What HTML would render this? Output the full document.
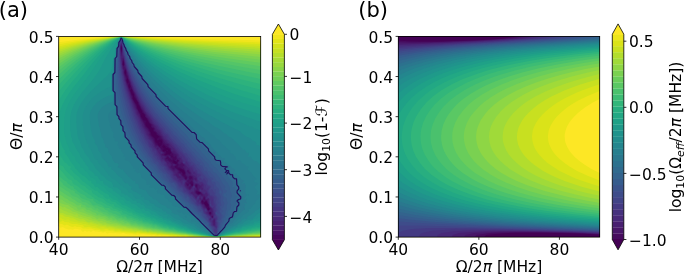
<!DOCTYPE html>
<html><head><meta charset="utf-8"><title>Figure</title>
<style>html,body{margin:0;padding:0;background:#fff;overflow:hidden}svg{display:block}</style></head>
<body>
<svg width="685" height="274" viewBox="0 0 685 274" font-family="'DejaVu Sans','Liberation Sans',sans-serif" font-size="15.5" fill="#000">
<g><rect x="58.7" y="36.4" width="202" height="200.7" fill="#fde725"/>
<path fill="#f1e51d" fill-rule="evenodd" d="M59.5,227.1l1.2,0.7 2,-0.8 2.1,1.2 2,0.8 2,0.5 2,-0.3 2,0.5 2.1,-0.9 2.9,0.3 1.1,0.5 2,0 0.7,1.5 1.3,0.8 2.1,-1.4 0.7,0.6 1.3,0.6 2,-0.6 2,0.8 2,-1.4 1.5,0.6 0.6,0.5 2,-0.2 2,0.5 2,0.2 2,0.6 2.1,-0.6 2,1.7 2,-1 2,-0.1 2,0.6 2.1,-0.4 4,0.6 2,0 0.8,-0.4 1.2,-0.2 0.8,0.2 1.3,0.7 4,0.6 2,-0.2 4.1,0.9 2,-0.4 6,-0.1 2.1,0.5 2,-0.2 3.2,0.2 0.8,0.3 1.3,-0.3 1.3,0 1.5,0.6 2,0.3 2,-0.5 2,0.5 6.1,0 2,0.6 2,-0.3 2,0.5 2.1,-0.2 2,0.3 2,-0.3 4,0.2 2.1,-0.2 2,0.3 6,0.1 4.1,-0.2 2,0.2 16.2,0.1 14.1,-0.2 6.1,0.2 24.2,-0.4 0,-196.3 -84.4,-2 -28.7,-1.3 -26.3,-0.6 -12.1,0.2 -8.1,0.6 -8,1.1 -14.2,1.2 -14.1,1.8 -6.1,0.9 0,183.8z"/>
<path fill="#e2e418" fill-rule="evenodd" d="M58.7,223.2l4,1 2.1,1.2 2,-0.8 4,1.9 2,0.4 2.1,-0.9 2,1.1 2,-0.4 2,0.6 2,1.1 2.1,0.1 2,0.3 4,-0.2 4.1,1.5 2,-0.3 2,0.3 2,0.9 2,0.5 2.1,-0.7 2,-0.3 2,0.6 2,0 2,0.2 2.1,0.7 4,-0.2 2,0.5 2,-0.1 6.1,0.9 2,0 2,0.5 2.1,0.1 2,-0.7 2,0.5 2,0.3 2,0 6.1,0.4 2,0.3 4.1,0.1 2,0.3 2,-0.1 2,0.4 2,-0.1 4.1,0.2 2,0.5 2,-0.1 2,0.4 2.1,-0.1 2,0.3 2,-0.2 4,0.3 2.1,-0.1 2,0.3 6,0.1 4.1,0 2,0.1 16.2,0.2 14.1,-0.2 6.1,0.1 24.2,-0.5 0,-194 -59.9,-2 -45.1,-2 -16.2,-1.1 -18.2,-0.8 -10.1,0.4 -6,0.6 -5.6,0.9 -10.6,1.1 -12.1,1.8 -12.1,2 -6.1,1.2z"/>
<path fill="#d2e21b" fill-rule="evenodd" d="M260.7,236l0,-191.8 -40.4,-1.7 -36.4,-1.7 -32.3,-2 -16.1,-1.3 -14.2,-0.9 -6,0.3 -6.1,0.5 -6.1,1 -12.1,1.6 -18.2,3.2 -14.1,3.2 0,174.8 2,0.5 2,-1.1 2.1,1.4 4,0.2 0.9,0.9 1.1,0.5 2,0.3 4.1,0.2 2,0.7 4,0.4 1.6,1.9 0.5,0.1 4,-0.4 4,1 6.1,1 2,0.6 2,0.1 2.1,-0.6 2,0.1 2,0.9 2,-0.2 2,0.2 2.1,1.1 4,-0.5 2,0.8 2,0.3 6.1,0.4 4,0.6 2.1,0.1 2,-0.4 4,0.6 4.1,0.1 2,0.4 2,0 2,0.3 4.1,0.2 2,0.6 2,-0.2 2,0.3 6.1,0.2 6,0.6 2.1,-0.1 2,0.5 2,-0.1 4,0.4 2.1,-0.2 2,0.4 6,0.2 22.3,0.5 14.1,-0.4 6.1,0.1z"/>
<path fill="#c5e021" fill-rule="evenodd" d="M260.7,235.7l0,-189.7 -46.5,-2.4 -34.3,-2.1 -30.3,-2.3 -16.2,-1.6 -12.1,-1 -10.1,0.8 -24.2,4.1 -13.9,2.9 -14.4,3.9 0,168.5 6.1,3.3 2,-0.5 2,0 2,1.7 2,0.2 2.1,0.5 2,0.3 2,0.6 2,0.2 2,0.8 2.1,-0.1 2,0.6 1.6,0.7 4.4,0.9 2.1,-0.1 2,1.4 2,0.1 2,-0.1 2,-0.4 2.1,0.8 4,0.9 2,-0.1 2,0.2 2.1,1.1 2,-0.2 2,0.1 4,1.3 2.1,-0.3 2,0.2 2,0.1 2,0.5 2,0.1 2.1,0.4 2,-0.4 6,0.8 2.1,0 2,0.4 2,-0.1 4,0.7 2.1,-0.1 2,0.7 2,-0.1 10.1,0.8 6.1,0.2 2,0.4 2,0 4,0.5 2.1,-0.2 2,0.4 6,0.3 22.3,0.6 14.1,-0.4 6.1,0z"/>
<path fill="#b5de2b" fill-rule="evenodd" d="M260.7,235.4l0,-187.5 -40.4,-2.4 -34.3,-2.5 -38.4,-3.4 -26.3,-2.9 -6,0.5 -4.1,0.5 -15.2,2.7 -9.8,2 -8.5,2 -7.4,2 -11.6,3.7 0,163.8 3.9,1.1 2.2,1.5 2,0.5 2,-0.1 2,1.3 2,0.1 1.9,0.7 4.2,2.3 2,0.2 2,-0.1 4.1,1.2 2,1.1 2,-0.7 2,1.1 4.1,0.7 2,0.9 2,0 4.1,0.5 2,1 2,-0.2 4,0.5 2.1,1 6,0.5 2,0.9 2.1,-0.2 4,0.2 4,0.8 2.1,0.7 2,-0.4 2,0 2,0.3 2,0.6 2.1,-0.1 2,0.6 2,-0.2 4,0.6 2.1,0 2,0.7 2,-0.1 10.1,0.9 2,-0.1 12.1,1.2 2.1,-0.1 4,0.6 10.1,0.5 16.2,0.4z"/>
<path fill="#a5db36" fill-rule="evenodd" d="M260.7,235l0,-185.1 -40.4,-2.9 -40.4,-3.4 -24.2,-2.5 -34.4,-4.3 -6,0.5 -4.1,0.6 -12.6,2.5 -9,2 -14.9,4 -6.3,2 -9.7,3.6 0,159.6 2,1.4 2,-0.1 4.4,2.1 1.7,0.3 2,0.1 4.1,1.9 4,1.1 2,0.8 2,-0.1 2.1,0.9 0.9,1 1.1,0.7 2,0.5 2,-0.6 6.1,2.1 2,-0.2 4,1.6 2.1,-0.4 2,1 2,0 2,0.5 2,0.2 2.1,0.7 2,0.4 4,0.4 2,0.6 2.1,0.1 6,0.5 2,0.7 8.1,0.8 2,0.7 2.1,0 2,0.6 2,-0.3 4,0.7 2.1,-0.1 2,0.8 4,0 2,0.4 6.1,0.5 2,-0.1 12.1,1.3 2.1,-0.2 4,0.7 10.1,0.6 16.2,0.6z"/>
<path fill="#98d83e" fill-rule="evenodd" d="M260.7,234.7l0,-182.7 -36.4,-2.9 -38.3,-3.7 -32.4,-3.9 -32.3,-4.7 -6,0.7 -4.1,0.7 -10.4,2.2 -15.6,4 -12.6,4 -5.3,2 -8.6,3.7 0,153.5 2,1.1 2,1.6 4.1,1.3 2,1.2 2,0.3 4.1,1.7 2,-0.5 0.7,0.7 1.3,2 2,-0.5 2,1.1 5.3,1.4 0.8,0.7 2,0.2 2,0.8 2.1,0.6 2,0.1 4,1.7 2,0.3 2.1,-0.1 2,1 2,0.2 2,0.7 2,0.2 2.1,0.5 2,0 4,0.9 4.1,0.2 2,0.9 4,0.4 2,0.7 2.1,-0.2 4,1 2,0 2,0.8 2.1,-0.1 2,0.9 2,-0.3 4,0.6 2.1,0 2,0.6 2,0 10.1,1.2 2,-0.2 2,0.4 10.1,1.1 2.1,-0.1 4,0.7 2,0 2,0.3 6.1,0.4 16.2,0.6z"/>
<path fill="#89d548" fill-rule="evenodd" d="M260.7,234.3l0,-179.9 -46.5,-4.5 -34.3,-3.9 -30.3,-4.3 -14.1,-2.4 -4.4,-0.9 -9.8,-1.5 -6,0.7 -4.1,0.8 -8.5,2 -14.5,4 -6.1,2 -10.8,4 -4.6,2.1 -8,3.8 0,148.7 3.5,2 0.5,0.4 2.1,-0.3 2,1.5 1.9,0.4 2.1,1.2 2,1.6 2.1,0.1 2,0.8 2,1.4 4,1.4 2.1,0.4 2,0.9 2.4,0.2 1.6,0.8 2,1.5 2.1,0 4,1.9 2,-0.7 2,1 2.1,0.3 2,1.1 4,1 2,0.1 2.1,0.6 2,-0.2 2,0.8 2,0.5 4.1,0.5 2,0.9 4,0.4 2,0.5 2.1,0 2,0.5 2,0.7 2,-0.1 2,0.6 2.1,0.1 2,0.9 2,-0.4 4,0.9 2.1,0 2,0.4 2,0.1 10,1.4 2.1,-0.2 2,0.5 10.1,1 2.1,0 4,0.7 2,0 2,0.4 6.1,0.4 16.2,0.8 32.3,-1.6 2,-0.4z"/>
<path fill="#7ad151" fill-rule="evenodd" d="M260.7,233.9l0,-177 -46.5,-5 -32.3,-4.3 -26.2,-4.1 -20.2,-3.8 -5.7,-1.3 -8.5,-1.4 -6,0.8 -3.2,0.6 -2.9,0.9 -4.9,1.1 -13.3,4 -5.8,2 -10.1,4 -8.6,4.1 -7.8,4.1 0,142.7 2,1.9 4.1,1.4 3,0.4 1,0.4 1.5,1.6 2.5,1.2 0.7,0.8 1.4,0.9 4,1.5 6.1,1.8 4,2 2,0.3 2,1 2.1,0.7 2,1.9 2,-0.8 2,0.4 2,0.2 2.1,1.2 2,0.8 2,0.3 2,1.1 4.1,0.5 4,1 4,1.4 6.1,0.7 2,0.7 6.1,0.9 2,0.7 2,-0.1 2,0.7 2.1,0.2 2,0.6 2,-0.1 4,1 2.1,0 4,0.6 6.1,1 4,0.5 2,-0.1 4.1,0.8 8,0.8 2.1,0 4,0.7 2,0.1 2,0.4 22.3,1.3 24.2,-1.3 12.1,-1.1 4.1,0z"/>
<path fill="#6ece58" fill-rule="evenodd" d="M260.7,233.5l0,-173.8 -38.4,-4.6 -22.2,-3.1 -16.2,-2.5 -14.1,-2.4 -18.2,-3.5 -18.2,-3.9 -4.7,-1.3 -7.4,-1.4 -8.1,1.3 -7.3,2.1 -6.5,2 -11.3,4 -4.9,2 -8.8,4.1 -7.7,4 -8,4.7 0,136.3 1.1,1.5 0.9,0.6 2,0.3 1.1,1.1 3,2.1 2,0.4 2,0.7 2,1.5 2.1,0.7 2,1.1 0.7,1.5 1.3,0.7 4,-0.6 2.2,1.9 1.9,1.3 2,0.5 4,1.6 4.1,1.8 2,0 2,0.8 2,0.2 2.1,0.9 1.1,0.9 0.9,0.4 2,0.6 2,0 1.6,1 2.5,0.2 6,2 4.1,1.1 2,-0.2 2,0.4 2,1.2 4.1,0.5 4,0.8 2,0.1 2,0.8 4.1,0.8 2,0 4,1 2.1,0.1 10.1,1.9 4,0.4 2,0 4.1,0.7 8,1 2.1,0 2,0.5 4,0.3 2,0.5 10.1,0.8 12.2,0.7 8,-0.6 16.2,-0.9 12.1,-1.3 4.1,0z"/>
<path fill="#60ca60" fill-rule="evenodd" d="M260.7,233.1l0,-170.3 -40.4,-5.5 -22.2,-3.6 -14.2,-2.5 -18.1,-3.5 -10.1,-2.2 -16.2,-3.8 -8.1,-2.1 -3.7,-1.2 -6.4,-1.3 -7.6,1.3 -2.5,0.9 -3.9,1.1 -6,2 -10.4,4 -9,4 -7.8,4.1 -6.9,4 -8.5,5.5 0,130.1 4,2.1 2.1,1.8 2.4,1 2.4,2 3.2,1.2 2.1,1.3 2,1.7 2,0.4 2,-0.9 0.3,0.3 -0.3,2.1 2,0.1 2.1,0.5 2,2.2 2,-0.1 4,2.4 2.9,0.8 1.2,1.9 2,-0.6 2,1.2 4.1,0.7 2,0.8 2,1.7 2,-1 2,2 2.1,-0.2 2,1.1 2,0.8 2,-0.3 2,0.7 2.1,1.1 2,-0.3 2,0.9 2,1.2 4.1,0.5 4,1 2,0 2.4,0.9 3.7,0.8 2,0.1 4,0.9 2.1,0.1 4,0.8 2,0.3 4.1,1.1 6,0.4 8.1,1.4 6.1,0.5 2,0.5 4,0.3 2,0.5 6.1,0.7 16.2,1 20.2,-1.4 16.1,-1.7 4.1,0z"/>
<path fill="#54c568" fill-rule="evenodd" d="M260.7,232.5l0,-166.2 -20.2,-3.1 -22.2,-3.6 -20.2,-3.6 -14.2,-2.9 -16.1,-3.5 -16.2,-3.9 -16.1,-4.5 -6.1,-1.8 -2.5,-1 -5.6,-1.3 -7,1.3 -3.1,1.3 -2.7,0.7 -10.5,4 -9,4 -7.8,4.1 -6.9,4 -9.1,6 -6.5,4.7 0,122.7 4,2.6 2.1,1.5 1.8,1 0.2,0.3 3.1,1.7 0.9,0.2 2,1.9 2.1,0.8 2,1.8 2,1 2,0.4 2,1.9 2.1,0.2 2,2.1 2,0.4 2,-0.2 1.5,1.5 2.6,1.6 2,-0.1 2,1.8 2,0.1 1,0.6 1,1.1 2.1,0.3 0.6,0.6 3.4,1.6 2,-0.4 2,0.4 4.1,2.9 4,0.1 4.1,1.1 4,1.5 2,1.3 2,0.2 2.1,-0.2 2,1.1 2,0.7 2,0 2,0.4 2.1,0.9 2,0.5 2,0.2 4,0.9 2.1,0 4,1 2,0.1 4.1,1.2 10.1,1.2 4,0.8 4,0.6 2.1,0.1 2,0.5 4,0.4 2,0.4 6.1,0.8 16.2,1.2 16.9,-1.4 15.4,-1.6 2,-0.1 2,-0.4 4.1,0z"/>
<path fill="#4ac16d" fill-rule="evenodd" d="M260.7,231.9l0,-161.8 -18.2,-3.1 -20.2,-3.7 -20.2,-4 -18.2,-4 -16.1,-4 -14.2,-3.9 -18.1,-5.6 -6.1,-2 -3.2,-1.4 -4.9,-1.2 -6.3,1.2 -1.8,0.9 -3.5,1.1 -9.6,4 -4.4,2 -7.8,4 -6.8,4.1 -9.1,6 -5.5,4 -7.8,6.3 0,114.9 2,1.1 6.1,4.1 2,0.9 2.5,3.2 1.5,1 4.1,1.2 4,2.7 0.7,1.1 1.3,1.1 2.1,0.2 2,0.4 2,1.9 2,0.7 3.1,1.7 1,1.6 2,-0.7 4,3.2 2,0.8 2.1,0.3 2,0.6 2,1.6 2,0.2 4.1,1.6 4,1.8 2,-0.1 2,0.9 4.1,1.5 2,0.4 2,1.1 2,0.6 2.1,-0.2 2,1.3 2,0.5 2,0.1 2,0.5 2.1,1 4,0.5 4,1.3 2.1,-0.1 4,1.1 2,0.2 4.1,1.1 8,1.4 2.1,0.1 2,0.5 8.1,1.2 2,0.5 4,0.4 8.1,1.3 16.2,1.3 2,-0.3 13.2,-1 2.9,-0.6 12.2,-1.1 2,-0.4 2,0.1 2,-0.6 6.1,-0.6z"/>
<path fill="#3fbc73" fill-rule="evenodd" d="M260.7,231.3l0,-157 -24.2,-4.7 -18.2,-3.8 -18.2,-4.1 -18.2,-4.6 -18.2,-5.1 -14.1,-4.5 -16.2,-5.8 -3,-1.3 -3,-1 -1.9,-1 -4.2,-1.1 -5.7,1.1 -2.4,1.2 -2.5,0.8 -8.7,4 -11.3,6 -6.4,4.1 -8.5,6 -7.6,6 -9.5,8.3 0,104.3 2,2.5 2,2 0.7,1.3 3.4,2 2,1.6 1.8,0.4 0.2,1 2,0.4 1.8,0.6 0.6,2 3.8,2.1 1.1,2 0.8,0.4 2,1.7 6.1,1.6 4,4.5 4.1,0.1 2,1.1 2,0.5 2,0.9 1.7,1.2 0.4,0.7 2,0.5 2,2 2,0.2 2,1.4 2.1,0.2 4,2.3 2,0 2,1.1 2.1,-0.4 2,1.9 2,0.5 2,0.1 2,1.3 2.1,0.3 4,1.4 2,0.1 0.6,0.5 1.4,0.5 4.1,0.6 3.3,0.9 2.7,1.3 2.1,-0.3 2.3,1 5.7,1.4 6.1,1.3 6.1,0.8 2,0.7 8.1,1.1 2,0.7 2,0.1 4,0.7 2.1,0.2 4.9,1 15.3,1.3 2,-0.4 11.6,-0.9 6.6,-1.2 9.9,-0.8 2.2,-0.7 2,0 8.1,-1.3z"/>
<path fill="#35b779" fill-rule="evenodd" d="M260.7,230.4l0,-151.5 -24.2,-5.2 -18.2,-4.3 -16.2,-4.1 -20.2,-5.6 -14.1,-4.4 -16.2,-5.7 -16.1,-6.4 -8.1,-3.5 -2.4,-1.3 -3.7,-1.1 -5.2,1.1 -0.8,0.6 -3.6,1.4 -4.1,2 -7.5,4 -9.7,6.1 -8.3,6 -7.4,6 -8.8,8 -7.2,7 0,96.6 1,0.8 1,0.3 2,2 2.1,1.5 0.8,0.2 1.2,0.8 0.5,1.2 2.9,2 0.6,1.2 2,0.1 0.9,0.7 0.3,2 0.9,0.2 2,1.2 0.4,0.6 3.6,2.9 2,0.6 2.1,1 2,2 2,1 2,0.5 2,-0.1 0.3,0.2 0.3,2 1.5,0.7 1.1,1.3 4.9,1.7 2,1.2 2.1,1.8 4,0.2 2,2 2,0.9 2.4,0.2 1.7,0.5 2.8,1.5 1.2,1.7 2,0.6 2.1,0.2 2,2.1 2,-0.2 2,0.3 4.1,1.8 2,0.5 2,1.1 2,-0.4 2,1.8 2.1,-0.1 2,0.3 2,1.1 2,0.2 2,1.1 2.1,-0.3 2,1 3.5,1.3 2.5,0.6 4.1,0.6 2,0.9 4,0.2 4.1,1.3 8.1,1.3 2,0.7 2,0.1 4,0.8 2.1,0.2 6.3,1.3 13.9,1.2 2,-0.3 9.9,-0.9 8.3,-1.7 2,0.1 3.2,-0.4 6.9,-1.3 4,-0.3 6.1,-1.1z"/>
<path fill="#2db27d" fill-rule="evenodd" d="M260.7,229.4l0,-145.4 -20.2,-4.8 -22.2,-5.8 -20.2,-5.8 -18.2,-5.8 -12.1,-4.2 -16.2,-6.3 -14.1,-6.3 -12.1,-6 -0.8,-0.6 -3.3,-1 -4.7,1 -1.3,1 -2.6,1 -1.5,1 -2.2,1 -10,6 -8.4,6.1 -7.4,6 -6.6,6 -10,10 -7.9,8.6 0,83.2 2.7,2.6 7.4,8.7 2,0.2 1.4,1.1 0.3,2 2.5,2 1.9,0.9 1.9,1.1 2.2,2 1.9,1.1 2.1,1.7 2,1.1 2,1.7 1.7,0.5 1.9,2 0.4,0 2.1,2.1 2,0.6 2,1.9 2,-0.3 2,1.5 2.1,0.9 2,1.6 4,1.1 0.8,0.6 1.2,1.6 2.1,0.1 2,0.9 2,1.4 2,-0.2 0.3,0.2 1.1,2 0.6,0.5 2.1,0.3 2,0.6 0.4,0.6 1.6,0.8 2,0.2 2,1.1 2.1,0.8 2,0.4 2,1.2 2,-0.2 2,1.9 4.1,0.5 2,0.9 2,0.1 2,1.2 2.1,0.1 2,0.7 2,0.9 2,0.2 2,1.1 2.1,0.3 2,-0.1 2,1.3 4,0.2 2.1,0.9 4,0.9 6.1,1.1 2,0.6 2,0.2 4,1 2.1,0.2 4,0.7 3.5,0.9 12.7,1.1 2,-0.3 8.7,-0.8 1.4,-0.4 8.1,-1.7 2.1,0.1 8,-1.9 6,-0.5 4.1,-0.8z"/>
<path fill="#27ad81" fill-rule="evenodd" d="M260.7,228.2l0,-138.5 -22.2,-6 -20.2,-5.9 -20.2,-6.5 -16.2,-5.7 -16.1,-6.3 -14.2,-6.2 -8.1,-3.9 -8,-4.2 -10.1,-5.6 -1.2,-1 -2.9,-1 -4.2,1 -1.8,1.3 -1.7,0.7 -3.3,2 -9,6 -5.2,4.1 -4.8,4 -8.5,8 -9.5,10 -8.9,10.1 -3.2,4 -2.5,3.4 0,70.9 1.5,1.9 0.5,0.5 2,0.8 0.9,0.8 1.1,2 2.1,2.7 4,3.6 2.3,1.7 1.2,2 0.6,0.6 2,0.8 2,2 1,0.6 1,1.4 1,0.6 3.1,1.3 2,2.2 1.2,0.5 0.8,1.4 2,-0.2 0.8,0.8 0.6,2 0.6,0.6 4.1,2.4 1,1.1 1,0.6 4,1.2 4.1,3.6 2,0.5 2,1.5 2,-0.6 1.9,3.2 2.2,0.2 4,1.8 2,1.3 2.1,0.4 4,2.4 2,0 2,1.8 2.1,0.3 4,2.4 4,0.8 2.1,1.5 2,0.5 2,0 0.9,0.6 4.3,2.1 2.9,0.4 2,0.8 2,0.3 2,1.2 2.1,0.1 2,0.4 2,1.3 4,0.2 2.1,1.1 8,1.7 4.1,1 2,0.2 4,1.2 2.1,0.2 4,0.7 4.6,1.2 11.6,1.1 2,-0.4 7.3,-0.7 2.8,-0.8 8.1,-1.8 2,0.1 8.1,-2.1 2,-0.2 2,0 2,-0.9 2,0.2 2.1,-0.6 2,-0.1z"/>
<path fill="#22a884" fill-rule="evenodd" d="M260.7,227.1l0,-131.2 -20.2,-6 -24.2,-7.9 -18.2,-6.6 -20.2,-8 -14.2,-6.3 -14.1,-7 -8.1,-4.5 -6,-3.5 -8.1,-5.1 -0.7,-0.6 -1.3,-0.7 -1.7,-1.3 -2.4,-0.9 -3.7,0.9 -0.3,0.4 -5.7,3.6 -8,6 -6.9,6.1 -6,6 -5.5,6 -13.7,16.1 -6.3,8 -3.9,6 -2.6,4.6 0,51.7 1.4,1.9 0.8,2 1.7,2 1.1,2 1.1,1.5 2,1.1 2,2.5 2,0.7 0.3,0.3 -0.3,0.9 -0.8,1.1 2.6,2 1.3,2 5,3.8 2,2.6 2,2.1 2.1,1 6,5.2 4.1,3.1 2,-0.2 2,2.3 2,1.7 1.7,0.5 0.3,0.2 0.8,1.8 3.3,2.2 2,-0.6 0.6,0.4 1.4,2.3 4.1,0.8 2,1.9 1.7,1 4.3,3.1 2.1,0.3 4,2.9 2,-0.1 2.1,1.8 2,0.5 6,2.9 2,0.4 2.1,1.2 4,0.8 2,1.4 2,0.5 0.3,0.3 1.8,0.8 2,0.4 6,2.1 2.1,0.3 4,1.7 4,0.7 6.1,2.1 4,0.6 4.1,1.4 2,0.1 4,1.2 2.1,0.4 2,0.6 2,0.2 5.7,1.5 10.5,1 2,-0.4 5.8,-0.6 12.4,-3.1 2,0 6,-1.8 4.1,-0.8 2,0.2 2,-1.2 2,0.1 2.1,-0.7 2,0.1z"/>
<path fill="#1fa287" fill-rule="evenodd" d="M260.7,225.5l0,-123.5 -18.2,-5.4 -8.1,-2.7 -12.1,-4.4 -14.1,-5.4 -10.1,-4.1 -18.2,-8 -14.1,-6.9 -14.2,-7.7 -12.1,-7.4 -10.1,-6.9 -6.1,-4.7 -2,-0.8 -3.2,0.8 -0.8,1 -1.9,1 -7.2,6 -4.3,4 -7.6,8.1 -5,6 -7.6,10 -10.9,13.5 -4.6,6.6 -3.6,6 -2.9,6 -1.5,4.1 -1,4 -0.5,3.3 0,15.7 0.3,1 -0.3,1.5 0,1.1 1.6,3.5 1.9,6 2.6,3.6 0,2.4 4.5,6 0.8,2 2.7,3.8 0.5,0.2 2.4,4.1 1.2,0.7 1,1.3 3,3 2,1.7 2.1,0.9 2.5,2.4 1.5,2.4 2,-0.6 0.4,0.2 0.1,2 1.5,0.9 1.1,1.1 1,2.3 2,-0.4 4.9,4.1 1.1,0.5 1.8,1.5 0.3,0.4 2,0.4 1.6,1.3 0.6,2 1.8,0.5 2,1.9 2.1,0.4 2,0.7 2,1.8 1.4,0.7 0.6,0.9 1.5,1.1 2.6,0.6 3,1.4 3,1.9 2,0.6 2.1,2.2 2,0.9 1.1,0.4 2.9,0.5 2,0.8 1.1,0.7 1,1.1 2,0.6 2,0.3 2,1.5 2,-0.2 1.9,0.7 2.4,2 1.8,0.6 2,0.3 2,0.5 0.8,0.7 3.3,1.5 2,0.1 2,0.9 2,0.2 2.9,1.3 5.2,1.7 2,0 4.1,1.6 2,0.2 2,0.8 4.1,0.9 2,0.8 2,0.1 4,1 2.6,0.9 9.6,1 2,-0.4 4.9,-0.6 3.2,-1.1 4.1,-0.9 3.9,-1.2 2.1,-0.4 2,0 4,-1.8 4.1,-0.5 2,-0.8 2,-0.2 2,-0.8 2,-0.2 2.1,-0.8 2,0.5z"/>
<path fill="#1f9e89" fill-rule="evenodd" d="M260.7,224l0,-115.9 -18.2,-5.4 -16.1,-5.7 -8.1,-3.2 -10.1,-4.3 -20.2,-9.4 -10.1,-5.1 -10.1,-5.5 -8.1,-4.6 -8.1,-5 -10.1,-6.8 -8.1,-6 -10.1,-8.3 -0.1,-0.4 -1.9,-0.8 -2.7,0.8 -1.3,1.5 -0.9,0.5 -1.1,1.3 -1,0.7 -5.8,6 -3.4,4.1 -4.7,6 -2.9,4 -7.9,12 -12.6,16.1 -4.2,5.9 -2.5,4.1 -2.1,4 -2.4,6.1 -1,4 -0.3,2 -0.5,8 0.1,2 -0.1,4 0.5,4 1.2,4.1 0.3,2 2.4,6 1.2,2 0.1,2 1.9,2 1.2,2.7 2.1,1 0.1,0.3 0.1,2 1.8,3.3 2,1.3 1.1,1.4 0.9,2.5 2,0.3 2.1,3.1 2,1.2 3.3,5 0.7,0.6 2,0.6 2.1,1.3 1.2,1.5 0.1,2 0.7,0.6 2,0 1.7,1.4 0.3,0.7 2,0.6 2.1,1.5 2,3 0.7,0.2 2.7,2 0.6,0.2 2,2.1 2.1,0.8 1.5,1 2.5,2.7 2,-0.4 2,1 0.9,0.7 1.2,2 2,1.2 2,0.3 2.4,2.5 3.7,1.3 2,1.4 2,0.2 2,1 2,2 2.3,0.1 1.8,1.9 2,0.4 2,1.2 2,0.4 4.1,1.9 4,0.9 5.9,3.4 4.2,1.1 2,0.3 4.1,1.8 2,0.5 2,1 2,0.2 2.1,0.6 2,1 2,0.3 2,0.9 2,0.4 4.1,1.2 8.1,2.1 1.2,0.6 8.9,0.9 2,-0.4 4,-0.5 2,-0.9 2.1,-0.7 2.4,-0.4 7.7,-2.4 2,0 3.4,-1.6 0.6,-0.5 6.1,-1.1 2,-1 2,-0.1 2,-0.6 2.1,-1 2,-0.1z"/>
<path fill="#1f988b" fill-rule="evenodd" d="M260.7,222.3l0,-107.7 -10.1,-3 -10.1,-3.3 -8.1,-2.9 -10.1,-3.9 -14.1,-6.2 -18.2,-9.2 -12.1,-6.7 -10.1,-6.1 -10.1,-6.5 -8.1,-5.6 -8.1,-6.1 -6,-4.9 -10.1,-9.1 -0.5,-0.7 -1.6,-1.2 -0.3,-0.8 -1.7,-0.7 -2.1,0.7 -6.3,8 -4,6.1 -3.6,6 -6.1,12 -2.5,4 -4.5,6.1 -10.2,12 -5.1,7.2 -1.7,2.8 -2.1,4 -1.6,4.1 -0.5,2 -0.7,4 -0.2,4 0.1,6 0.1,4 0.5,2 0.1,2 0.3,2.1 1,2 -0.1,2 0.7,1.6 1.7,2.4 0.7,2 1.7,3.2 0.2,0.8 2,2 0.8,2 0.4,2 2,2 1,2 1.7,2 1,2 2.3,2.1 0.5,2 2.2,2.1 2.6,1.9 1.5,2.8 2,0.4 1,0.8 1,2 1.6,2 0.4,0.2 2,-0.3 0,2.1 1.9,2 2.2,0.7 0.9,1.3 1.1,0.8 2,0.4 1.5,0.8 0.3,2 2.3,0.6 2,2 2,1 2,2.4 2,-0.2 0.5,0.3 1.6,2 2,2.1 2,-0.5 0.4,0.4 1.6,2.4 4.1,1.1 0.8,0.5 1.2,0.9 0.9,1.1 3.1,2.2 2,-1.2 2.1,3 2,0 2,0.7 2,3 2,-0.4 1.3,0.7 0.8,0.8 2,0.4 0.8,0.8 1.2,0.8 2,0 2,1.9 2.1,0.1 2,1.6 2,-0.6 2,1.7 4.1,1.5 4,1.7 2,1.1 4.1,0.7 2,1.3 2,0.5 2,0.7 2,0.5 2.1,0.8 2,0.4 3.9,1.4 4.2,1 2,1 8.1,0.9 5.2,-0.9 2.8,-1.4 2.1,-0.7 2,-0.4 4.8,-1.5 3.3,-1.6 2,-0.1 2,-0.5 2,-1.6 4.1,-1 2,-0.1 2,-0.7 2,-0.2 0.6,-0.2 1.4,-1.3z"/>
<path fill="#20928c" fill-rule="evenodd" d="M260.7,219.9l0,-98.1 -4,-1.2 -16.2,-5.7 -8.1,-3 -10.1,-4.1 -8.1,-3.6 -8,-3.9 -8.1,-4.2 -8.1,-4.6 -10.1,-6.1 -8.1,-5.2 -8.1,-5.5 -8,-5.9 -10.1,-7.9 -8.1,-7.1 -10.1,-9.9 -2,-2.2 -1,-1.3 -1.1,-0.9 -0.4,-1.1 -1.6,-0.7 -1.9,0.7 -0.1,1.9 -2,2.1 0,3.4 -0.2,0.6 -1.8,2 0,3.8 -1.1,4.3 -1,2 0,1.8 -1.4,8.2 -0.7,2 -1.1,2 -3.5,4 -15.5,14.6 -6,6.8 -3.5,4.7 -2.3,4 -1.7,4.1 -1,4 -0.2,8 0.3,2 0,4 0.7,2 -0.1,2 0.2,2 1.1,4.1 1.4,2 0.2,2 0.9,2 0.4,2 1.6,2 1.7,4 1.3,2 3.6,4 0.4,2 3.6,4 2.4,4.1 3.1,2.8 2,2.8 3.4,2.4 1.6,2 3.1,2.1 2,0.8 0.9,1.1 0.9,2 0.2,2 4.1,0.6 4,3.4 -0.1,2 0.1,0.3 2,0.4 2.1,1.7 2,0 1.5,1.7 2.5,1.6 2,2.1 2.1,-0.2 0.8,0.5 0.8,2 0.4,0.1 2,-0.1 2,1.9 2,-0.1 2.1,3.1 2,0.7 2,0.1 2,2.1 4.1,1.3 2,2.1 1.2,0.8 0.8,0.8 2,0.2 2,2.2 2.1,-0.1 2,1.1 2,0.4 2,1.7 2,0.7 2.1,0.4 2,1.4 4,1 2,1.3 2.1,0.2 2,1.5 2,0.6 2,0.9 2,0.5 2.1,0.7 2,0.5 5.5,2.1 2.6,0.7 2.9,1.3 7.2,0.8 4.4,-0.8 5.7,-2.6 4.8,-1.4 1.2,-0.8 2,-0.5 2.1,-1.3 2,-0.6 2,-0.2 2,-1.5 2,-0.4 2.1,-1 2,-0.2 2,-1.3 2,0.4 0.7,-0.6 1.3,-1.8 2.1,0.2 1.6,-0.5 0.4,-0.3z"/>
<path fill="#218e8d" fill-rule="evenodd" d="M260.7,217.8l0,-86.7 -4,-2 -2.1,-0.3 -2,-1.7 -4,-0.9 -2,-1.2 -5.2,-2.3 -7,-2.8 -18.1,-8.3 -8.1,-4 -8.1,-4.3 -6.1,-3.5 -8,-5 -8.1,-5.5 -8.1,-5.7 -8.1,-6.2 -8.1,-6.5 -10.1,-9 -8,-8 -6.1,-6.7 -5.5,-6.8 -0.6,-0.5 -0.6,-1.5 -1.4,-0.6 -1.7,0.6 -0.2,2 -1.9,2 -0.1,4 -1.9,2 -0.1,8.1 -1.9,2 -0.1,14 -2,2 -0.2,12 -4,1.6 -6.1,3.3 -4,2.9 -4.1,3.5 -2.7,2.8 -3.3,4.2 -2.3,3.9 -1.5,4 -0.4,2 -0.1,2 0.3,4 -0.2,4 0.8,2 -0.1,2 0.1,2 2,8.1 0.9,2 0,2 2.2,2 -0.2,2 2,2 1,2 0.6,2 1.4,2 0.5,2 1.1,2.4 2,0.6 0.7,1 0.6,2 0.7,0.9 1.7,1.1 1,2.1 1.3,0.8 1.4,1.2 1.1,2 1.9,2 0.9,2 2.6,2 1.6,2 0.6,0.4 2.1,0.3 0.9,1.3 1.1,0.5 1.5,1.5 0.5,1.1 4.5,2.9 1.6,1.7 2,1.2 0.5,1.1 1.5,1.8 2,0.3 2,2.4 2.1,3.1 2,0.6 2.4,-0.1 1.6,0.5 2,2.8 3,2.7 1.1,0.7 2,-0.5 2,0.9 1.4,2.9 2.7,1.2 2,0.5 2,1.3 2,0.5 2,1.5 2.1,0.9 2,0 0.4,0.1 -1.3,2 0.9,0.4 2,-0.4 2.9,2 1.1,1.7 2.1,0.2 2,0.9 2,0.6 2,0.8 2,2 2.1,-0.1 3.1,2 2.9,0.9 2.1,1.1 4,1.1 2,1.2 2,0.3 2.9,1.4 3.2,0.9 1.7,1.1 6.4,0.8 3.8,-0.8 6.3,-3.1 4,-1.6 2,-1.3 2,-0.3 3.3,-1.7 0.8,-1 2,0.1 2.5,-1.1 1.5,-1.4 3.9,-0.6 2,-2.1 2.2,-0.7 2,-1.7 2.1,0.2 2,-1.8z"/>
<path fill="#23888e" fill-rule="evenodd" d="M252.6,219l1.6,-2 2.1,-2 0.4,-0.6 2.3,-1.4 1.7,-0.5 0,-65.3 -0.7,-0.4 -1.3,-1.8 -2,0 -0.4,-0.2 0.2,-2 -1.9,-1.6 -2,-0.5 -2,-2.5 -4.1,-1.4 -4,-2.9 -2,-2.1 -1.7,-1.1 -6.4,-3.3 -2,-0.9 -3.1,-1.8 -5,-2.5 -16.1,-9 -8.1,-4.7 -12.1,-7.8 -6.1,-4.3 -6.1,-4.5 -8,-6.5 -6.1,-5.1 -6.1,-5.5 -6,-5.7 -8.1,-8.4 -8.1,-9.5 -6,-7.9 -2.1,-3 -0.7,-1.9 -1.3,-0.5 -1.5,0.5 -0.2,2 -1.9,2 -0.1,4 -1.8,2 -0.2,8.1 -1.9,2 -0.1,14 -1.9,2 -0.3,16.1 1.9,2 -0.1,1.8 -4,1.2 -4,1.7 -4.1,2.3 -3.9,3 -2.1,2.1 -1.7,1.9 -1.4,2.1 -1.1,2 -0.7,2 -0.5,2 0,2 0.6,8 0.5,4 1.2,6 1,2.3 2.1,3.8 -0.4,2 2.4,3.3 0.6,0.7 0.8,4 0.6,0.5 2.7,3.5 -0.5,2 3.6,4 2.1,2 1.7,4.1 0.5,0.5 2,-1.2 0.5,0.7 -0.6,2 2.1,1.3 2.8,2.7 1.3,2.1 2,1.6 2,1.3 1.1,1 0.5,2 0.4,0.2 1.9,1.8 0.2,0.5 2,-0.4 1.6,1.9 0.4,0.9 2,0.6 0.8,0.5 -1.2,2 2.4,2.4 2.1,0.6 2,1 2,1.5 2,0.2 0.5,0.4 -1.4,2 0.9,0.2 1.4,-0.2 0.6,-0.5 0.5,0.5 -0.1,2 1.7,0.7 2,0.4 1.6,0.9 0.4,0.3 0.5,1.7 1.5,0.6 2,0.2 2.1,2.5 2.1,0.7 1.9,1.2 2,0.6 1.4,2.2 0.6,0.3 2.1,0.3 0.8,1.4 1.2,0.9 2,0.3 2,2 4.1,2.9 2,0.6 2,0.3 4,3.3 4.1,0.8 4,2 2,0.3 0.3,0.7 1.8,1.2 0.7,0.8 5.3,1.9 4.4,2.1 1.7,0.4 2.7,1.6 5.4,0.7 3.3,-0.7 0.7,-0.6 3,-1.4 1,-0.8 2.9,-1.2 7.2,-4.2 2.1,-0.2 2,-2.3 2,-0.2 2,-0.5 2,-2.2 4.1,-1.7 2,-0.3z"/>
<path fill="#26828e" fill-rule="evenodd" d="M247,219l0.2,-2 1.4,-0.9 2,-0.8 2,-1.9 1.4,-0.4 0.9,-2 3.8,-1.8 1.6,-2.2 0.4,-0.2 0,-40.7 -0.5,-1.3 -1.5,-1.6 -0.6,-0.4 -1.4,-1.6 -2.1,-0.3 -2.9,-2.1 -0.7,-2 -0.4,-0.2 -2,0.5 -0.7,-0.3 0.8,-2 -0.1,-2 -2,-0.1 -1,-1.9 -1.1,-1.1 -2,0.3 -0.3,-1.2 -1.7,-1.9 -0.4,-0.1 -1.1,-2 -0.5,-0.3 -2,-2 -2,-1.7 -2.1,-2.2 -3.4,-1.8 -0.6,-0.6 -1.3,-1.5 -0.7,-0.5 -2.1,-0.9 -4,-3.6 -1.3,-1 -4.8,-2.3 -6,-4.6 -4.1,-2.4 -18.1,-12.4 -10.1,-7.7 -10.1,-8.6 -12.2,-11.5 -10.1,-10.8 -6,-7.2 -6.1,-8 -4,-5.8 -4.1,-6.5 -0.8,-2.5 -1.2,-0.5 -1.3,0.5 -0.3,2 -1.8,2 -0.1,4 -1.8,2 -0.2,8.1 -1.9,2 0,14 -2,2 -0.2,16.1 1.9,2 -0.4,9 -2.9,1 -3.1,1.4 -4.2,2.6 -2.1,2.1 -1.6,2 -1,2 -0.6,2 0,2 1.1,8 0.4,2 0.8,2 0.2,2 1.2,4 0,2.1 1.8,2 0.7,4 1.5,2 -0.4,2 2.2,1.3 0.7,0.7 0.9,4 2.4,2.8 0.7,1.2 0.4,2 0.9,2 2.1,2.1 2,0 1.5,1.9 -1.1,2.1 3.1,2 0.5,0.7 2,-0.3 0.3,1.6 1.8,2 1.5,2 0.5,0.3 2,2.3 2,1.4 2,2.3 2.1,-0.7 0.2,0.4 -0.7,2 0.5,0.6 2,0.3 1,1.1 0.2,2 0.8,1.5 4,1.5 2.1,0.4 0.7,0.6 1.3,2.6 2,2.4 2.2,1.1 1.8,2.3 2.1,0.3 2.1,1.4 1.3,2 2.6,1.7 2,0.6 2.1,1 2,2.3 2,-0.3 0.3,0.7 1.9,2 -0.2,2.1 2,0.3 2.1,1.3 2,-0.1 2,2.4 2,0.5 2,1.8 2.1,0.6 2,2 2,0.7 2,1.2 2,0 2.1,2.2 4,2.6 2,0.9 2,1.6 2.1,0.6 2,1 0.2,0.4 3.5,2 4.4,0.6 2.8,-0.6 1.2,-1 2.3,-1 1.7,-1.3 1.6,-0.7 0.5,-0.6 2.9,-1.4 1.1,-1.2 2,-1.3 3.9,-1.5 2.2,-2 2,-1 2,-2.4 2,-1.4 2.1,1zM173.4,209l0.4,-0.3 0.4,0.3 -0.4,0.5zM155.7,203.1l0.1,-0.1 -0.1,-0.2z"/>
<path fill="#277e8e" fill-rule="evenodd" d="M218.6,235.1l1.7,-1.4 1.4,-0.6 3,-2 3.7,-4.5 2,-0.6 2.1,-0.9 6,-6.4 2,-0.2 0.8,-1.5 1.2,-1.4 6.1,-3.9 0.4,-0.7 -0.8,-2 0.4,-0.3 2,0.2 2,-3.7 0.7,-0.2 1.3,-1 0.7,-1 0.6,-2 0.8,-0.9 1.7,-1.1 0.3,-1 1.6,-1 -0.3,-2 -1.3,-0.8 -1.7,0.8 -0.3,0.5 -0.4,-0.5 1.4,-4.1 -1,-0.5 -0.9,-1.5 -1.7,-2 2.6,-2 0,-0.3 2,-1.7 -2,-0.2 -2.1,-0.5 -0.7,-1.3 0.7,-0.7 1.8,-1.3 -3.9,-4 -0.8,-2 -2.5,-2 -2,-2 1.6,-2 -2.2,-0.5 -1.8,-1.6 -0.3,-0.5 -2,-0.8 -0.9,-0.7 -1.1,-2.2 -2,-0.6 -2,1.1 -1,-4.3 -1.1,-0.9 -0.7,-1.1 -1.3,-0.9 -2.5,-1.1 0.3,-2 -1.8,-0.8 -1.4,-1.2 -0.6,-1 -2.1,-2 -2,-1.5 -1.2,-1.5 -0.8,-1.6 -3.8,-2.4 -2.3,-2.7 -2,-1 -2.2,-2.4 -1.8,-1.4 -2,-1.3 -2.1,-2.1 -4,-3 -2.6,-2.2 -2.8,-2 -16.8,-13.5 -10.1,-8.9 -10.1,-10 -10.1,-11.1 -8.1,-10.1 -6.1,-8.5 -6,-9.6 -0.1,-0.6 -1.9,-2.9 -0.3,-1.1 -1.8,-2.7 -0.2,-1.3 -0.8,-2 -1,-0.4 -1.2,0.4 -0.3,2 -0.5,0.8 -1.2,1.2 -0.2,4 -1.7,2 -0.2,8.1 -1.8,2 -0.1,14 -1.9,2 -0.2,16.1 1.9,2 -0.4,12 1.9,2 -0.1,2 -4.1,2.2 -1.9,1.9 -1,2 -0.1,2 0.7,4 0.9,2 0,2 2,4 0,2 1.4,1.4 0.4,0.6 -0.5,4.1 1.7,2 0.1,2 0.4,0.7 2,-0.4 1,1.7 -1.1,2 1.5,2 0.6,2 2,-0.5 0.3,0.5 -0.5,2 2.2,3.2 0.9,0.8 -1,2 0.1,0.3 2.1,-0.6 0.5,0.3 -0.5,0.6 -0.6,1.4 0.6,1.9 2,-0.4 0.2,0.5 1.8,1 0.9,1 0.9,2 2.4,2.1 -0.2,2.1 0.1,-0.1 2,-0.4 0.3,0.4 -0.3,1.1 -1.3,0.9 1.3,0.3 2,2 2,-0.8 1,0.5 0.8,2 -0.3,2 3.3,2 2,2 0.5,4 0.8,0.2 2,-1 1.3,0.8 -1.7,2 0.4,0.4 2,0.5 2,-0.9 0.2,0 1.1,2 0.8,0.8 2,-1.5 0.6,0.7 -1.5,2 0.9,2.3 2,0.2 2,1.3 2,-0.3 0.4,0.6 0.7,2 1,1.4 2,0.3 0.8,2.3 3.5,2 -0.3,2 4.1,1.9 2,0.1 3.4,2 -1.4,0.9 -2,-0.2 -1,1.3 1,1 2,0.8 2,-0.8 2,2.9 2.1,-0.8 2,0.6 2.8,2.3 1.1,2 -0.9,2 1,0.6 2,-0.4 2.1,0.9 0.5,1 1.5,0.8 1.4,1.2 1,2 1.6,0.7 2,0.5 0.7,0.8 1.4,1 2,0.9 1.4,2.1 2.9,2 3.8,0.6zM252.2,178.9l0.4,-0.4 0.4,0.4 -0.4,0.3zM139.5,168.1l0.6,0.8 -0.6,1.2 -1,-1.2zM244.5,168.9l0,-0.2 0.2,0.2zM184.6,217l1.4,0.5 1.1,-0.5 -1.1,-1.4z"/>
<path fill="#2a788e" fill-rule="evenodd" d="M218.2,235.1l2.1,-1.8 3.2,-2.2 0.8,-1.4 2.2,-2.6 1.9,-1.6 0.7,-0.4 1.3,-1.7 2,-0.3 1.1,-2.1 3,-3.8 2,-1.5 0.2,-0.7 3.6,-4 0.2,-0.5 2,-0.8 0.6,-0.7 -0.6,-1.7 -2,-0.3 2,-0.5 0.9,-1.5 -0.9,-1 -0.4,-1 0.4,-0.6 2.1,1.3 0.6,-0.7 -1.4,-2 0.8,-1.6 0.5,-0.4 -0.5,-0.6 -0.5,0.6 -1.6,0.7 -0.5,-0.7 0.5,-1.2 1.1,-0.8 0.8,-2 -1.1,-2.1 0.2,-2 -0.2,-2 0.3,-2 -0.2,-2 -0.9,-2 -2,0.8 -0.7,-0.8 2.6,-2 -3.7,-2 -0.6,-2 -1.6,-0.8 -1.6,-1.2 -0.4,-1.6 -2.1,0.3 -0.8,-0.7 1.5,-2 -0.7,-1.8 -2,-0.7 -2,-2.7 -2.3,-0.9 -1.7,-1.8 -2.1,-1.5 -1.9,-0.7 1.9,-0.7 0.8,-1.3 -0.8,-0.7 -2,0.5 -1.5,-1.8 -0.5,-0.9 -2.2,-1.1 -0.9,-2 -5.8,-6 -0.8,-2 -2.4,-2.3 -2.6,-1.7 -0.7,-2 -0.8,-1.1 -2,-0.8 -2.3,-2.2 -1.3,-2 -2.9,-2 -3.6,-3.2 -0.5,-0.8 -1.5,-1.6 -16.2,-14.6 -10.1,-9.9 -8,-8.8 -10.1,-12.4 -6.1,-8.3 -0.1,-0.6 -1.9,-2.4 -2,-3.1 -0.1,-0.5 -2,-2.7 -0.2,-1.3 -1.8,-2.1 -0.3,-1.9 -1.8,-2 -0.3,-2 -1.7,-2.1 -0.4,-2 -1.6,-2 -0.5,-2 -1.5,-2 -0.4,-2 -0.7,-2 -0.9,-0.3 -1,0.3 -0.4,2 -0.6,1 -1,1 -0.2,4 -1.6,2 -0.3,8.1 -1.8,2 -0.1,14 -1.9,2 -0.1,16.1 1.8,2 -0.2,12 1.8,2 -0.1,8.1 1.9,2 0,2 2,2 0,4 2,2 0.1,4 2,2 0,4.1 4,4 0,2 1.9,2 0.1,2 4.1,4 -0.1,2 2.1,2 0,2 6.1,6 -0.1,2 5.9,5.8 2.1,2.3 0.2,2 11.8,11.7 2,0.1 0.2,0.2 -0.1,2 8,7.8 2,0.2 0.2,2.1 2.2,2 7.7,7.7 2.1,0 5.8,6.3 2.2,1.8 14.2,13.8 2.2,2.5 2.4,2 3.5,0.5zM240.4,209l0.1,-0.1 0.6,0.1 -0.6,0.3zM249,195l-0.4,-0.8 -1.2,0.8 1.2,0.4z"/>
<path fill="#2c728e" fill-rule="evenodd" d="M218,235.1l0.3,-0.4 4.1,-3.6 3.5,-4 0.5,-1 1.1,-1 0.9,-2 1.9,-2.1 0.1,-1.3 0.8,-0.7 1.2,0 2.3,-2 -0.3,-2 1.1,-2 1,-0.3 1.6,-1.7 0.4,-2 -0.3,-2 2,-2 0.2,-2 -1.9,-2 2,-0.5 1.8,-1.5 0.1,-2 -1.9,-1.7 -2.2,-2.4 0,-2 0.2,-0.1 2,1.9 1.4,-1.8 -1.8,-2 0,-2 -1.8,-2 -0.5,-6 -1.3,-1.5 -2.1,-0.2 -0.3,-0.3 -0.1,-2 -1.6,-1.5 -2,-0.2 -0.3,-0.3 -0.2,-2 -1.5,-1.6 -2,-0.1 -0.4,-0.3 0.4,-0.4 2,-0.1 1.4,-1.5 -1.4,-1.3 -6.1,-0.3 -0.4,-0.5 0.1,-2 -0.3,-2 -1.4,-1.4 -4,-0.2 -0.4,-0.4 0,-2 -1.9,-2 1.7,-2 -1.5,-1.4 -2,1.8 -2.3,-2.4 -0.2,-2 -7.6,-7.6 -2,-0.1 -2.3,-2.3 -0.3,-4.1 -3.5,-3.4 -2,-0.1 -22.6,-22.5 -0.2,-2.1 -1.4,-1.3 -2,-0.2 -8.5,-8.5 -0.2,-2 -7.9,-8 -0.2,-2 -5.8,-6.1 -0.2,-2 -3.9,-4 -0.2,-2 -3.7,-4 -0.3,-2 -1.8,-2 -0.4,-2 -1.7,-2 -0.4,-2 -1.7,-2 -0.4,-2 -1.6,-2.1 -0.4,-2 -1.5,-2 -0.5,-2 -1.2,-1.5 -0.5,-2.5 -0.8,-2 -0.7,-0.3 -0.8,0.3 -0.4,2 -0.8,1.2 -0.8,0.8 -0.2,4 -1.6,2 -0.3,8.1 -1.7,2 -0.2,14 -1.9,2 0,16.1 1.8,2 -0.1,12 1.8,2 0,8.1 1.9,2 0,2 1.9,2 0.1,4 2,2 0.1,4 1.9,2 0.2,4.1 3.8,4 0.1,2 1.9,2 0.1,2 4,4 0,2 2,2 0.1,2 6,6 0,2 8,8.1 0.2,2 11.3,11.2 2,0.2 0.7,0.6 0,2 7.4,7.3 2,0.2 0.6,0.6 0.2,2 9.3,9.1 2.1,0.2 0.8,0.7 5.2,5.5 6.1,5.7 12.8,12.9 2.3,2 3.1,0.5zM226.2,172.9l0.2,-0.3 0.2,0.3 -0.2,0.2z"/>
<path fill="#2e6e8e" fill-rule="evenodd" d="M217.8,235.1l0.5,-0.8 3.5,-3.2 3.5,-4 1,-2 1.4,-2 1.9,-2.1 0.2,-2 0.6,-0.6 2,-0.4 1.1,-1 0.5,-4 0.4,-0.5 2.1,-0.6 0.8,-0.9 0.3,-4 1.9,-2 0.2,-2 -2,-2 0.8,-0.8 2,-0.4 0.9,-0.8 0.2,-2 -1.1,-1 -2.8,-3.1 0,-2 1.7,-2 -0.1,-2 -1.7,-2 -0.4,-6 -0.7,-0.8 -2.1,-0.2 -1,-1 -0.1,-2 -0.9,-0.9 -2,-0.1 -1,-1 -0.1,-2 -0.9,-1 -2,-0.1 -1,-0.9 1,-1.2 2,-0.2 0.6,-0.6 -0.6,-0.6 -6.1,-0.4 -1.1,-1.1 0.1,-2 -0.3,-2 -0.7,-0.7 -4,-0.4 -1,-0.9 -0.1,-2 -6,-6 -0.1,-2 -7,-6.9 -2,-0.2 -2.9,-2.9 -0.3,-4.1 -2.9,-2.8 -2,-0.1 -23.2,-23.1 -0.3,-2.1 -0.7,-0.7 -2,-0.2 -9.1,-9.1 -0.2,-2 -7.8,-8 -0.3,-2 -5.8,-6.1 -0.2,-2 -3.8,-4 -0.3,-2 -3.6,-4 -0.3,-2 -1.8,-2 -0.4,-2 -1.7,-2 -0.3,-2 -1.7,-2 -0.4,-2 -1.6,-2.1 -0.4,-2 -1.4,-2 -0.5,-2 -0.9,-1.1 -0.3,-0.9 -0.4,-2 -0.7,-2 -0.6,-0.2 -0.6,0.2 -0.5,2 -1.5,2 -0.3,4 -1.5,2 -0.3,8.1 -1.7,2 -0.2,14 -1.8,2 0,16.1 1.8,2 0,12 1.8,2 0.1,8.1 1.8,2 0.1,2 1.9,2 0.1,4 1.9,2 0.2,4 1.9,2 0.2,4.1 3.8,4 0.1,2 1.9,2 0.1,2 4,4 0,2 2,2 0.2,2 5.9,6 0.1,2 7.9,8.1 0.2,2 10.8,10.7 2,0.2 1.1,1.1 0.1,2 6.9,6.8 2,0.3 1,1 0.3,2 8.8,8.6 2.1,0.3 1.3,1.1 4.7,5 6.1,5.7 12.1,12.2 3.3,3.2 2.8,0.4zM225.6,172.9l0.8,-0.9 0.9,0.9 -0.9,0.8zM240.5,191.9l0.8,-1 -0.8,-0.8 -1,0.8zM214.2,153.6l0.7,-0.8 -0.7,-0.7 -0.8,0.7z"/>
<path fill="#31688e" fill-rule="evenodd" d="M217.6,235.1l0.7,-1.1 1,-0.9 5.4,-6 0.8,-2 3.4,-4.1 0.2,-2 1.3,-1.3 2,-0.8 0.8,-3.9 1.2,-1.4 2.2,-0.6 0.3,-4 1.9,-2 0.1,-2 -1.9,-2 1.5,-1.5 2.1,-0.5 0.2,-2 -3.7,-4.1 0,-2 1.7,-2 -0.2,-2 -1.7,-2 -0.4,-6 -2.1,-0.3 -1.7,-1.7 -0.1,-2 -0.2,-0.2 -2,-0.1 -1.7,-1.7 -0.1,-2 -0.2,-0.3 -2,-0.2 -1.6,-1.5 1.6,-1.9 0.9,-0.1 -5,-0.5 -1.7,-1.6 0.1,-2 -0.4,-2 -4,-0.5 -1.5,-1.5 -0.2,-2 -6,-6 -0.2,-2 -6.3,-6.2 -2,-0.3 -3.5,-3.5 -0.4,-4.1 -2.2,-2.2 -2,-0.1 -23.9,-23.7 -0.2,-2.1 -2.1,-0.3 -9.6,-9.7 -0.3,-2 -7.8,-8 -0.3,-2 -5.7,-6.1 -0.3,-2 -3.7,-4 -0.3,-2 -3.6,-4 -0.4,-2 -1.7,-2 -0.4,-2 -1.6,-2 -0.4,-2 -1.6,-2 -0.5,-2 -1.4,-2.1 -0.5,-2 -1.3,-2 -0.5,-2 -0.6,-0.7 -0.4,-1.3 -0.4,-2 -0.8,-2 -0.4,-0.2 -0.5,0.2 -0.5,2 -1.4,2 -0.3,4 -1.5,2 -0.3,8.1 -1.7,2 -0.2,14 -1.8,2 0,16.1 1.9,2 0.1,12 1.8,2 0.2,8.1 1.8,2 0.1,2 1.8,2 0.2,4 1.9,2 0.2,4 1.8,2 0.3,4.1 3.8,4 0.1,2 1.9,2 0.2,2 3.8,4 0.1,2 2,2 0.3,2 5.7,6 0.2,2 7.9,8.1 0.2,2 10.3,10.2 2,0.2 1.6,1.6 0.2,2 6.3,6.2 2,0.4 1.5,1.5 0.3,2 8.3,8.1 2.1,0.3 1.8,1.6 4.2,4.5 6.1,5.7 3.6,3.9 12.2,12 2.4,0.4zM225,172.9l1.4,-1.6 1.6,1.6 -1.6,1.3zM240.5,191.1l0,-0.3 -0.2,0.1z"/>
<path fill="#33628d" fill-rule="evenodd" d="M217.4,235.1l0.9,-1.4 4.1,-4.6 1.4,-2 0.9,-2 1.7,-2 -0.2,-2.1 0.2,-0.1 2,-0.9 0.1,-1 1.7,-2 1.1,-2 1.1,-1.6 0.8,-2.4 0.6,-4 1.8,-2 0.3,-2 -0.1,-2 -0.7,-2 1.4,-1.6 0.7,-0.4 -1.8,-2 -1,-2.1 2.1,0.2 0,-2.3 -1.3,-1.9 -0.5,-2 -0.3,-0.2 -2,0.9 -0.5,-0.7 0.6,-2 0.3,-2 -0.4,-1.2 -4,-4.3 -0.8,-2.5 -1.2,-0.1 -1.9,-1.9 -0.2,-1.5 -0.3,-0.5 -1.7,-1.7 -1.8,-2.3 -1.8,-2.1 -0.4,-0.7 -2,-0.7 -0.5,-0.6 -0.4,-2 -1.2,-1.1 -0.5,-0.9 -2.2,-2 -3.2,-4 -2.1,-1.9 -2.1,-2.7 -2,-1.7 -2,-2.5 -2,-1.7 -1.1,-1.5 -3.9,-4 -3.3,-4.1 -2.5,-2 -1.5,-2 -6.4,-6 -9.9,-10 -1.7,-2.1 -4.1,-4 -7.1,-8 -4.9,-6 -1.3,-2 -3.2,-4 -4.1,-6 -1.6,-2.1 -1.1,-2 -2.8,-4 -0.1,-0.5 -2.1,-3.5 -1.7,-2 -0.3,-1.4 -1.8,-2.6 -0.2,-1 -0.4,-1 -1.4,-2 -0.6,-2 -1.4,-2 -0.6,-2 -1.2,-2.1 -0.5,-2 -1.2,-2 -0.5,-2 -0.9,-2 -0.4,-2 -0.7,-2 -0.6,0 -0.5,2 -1.4,2 -0.3,4 -1.3,2 -0.3,2 -0.2,6.1 -1.4,2 -0.3,3 -0.2,11 -0.8,2 -0.1,2 0.4,12.1 0.2,2 0.4,2 0.6,6 1.5,8 1.9,8.1 3.3,10 2.3,6 2.8,6.1 4.1,8 5.8,9.6 6,8.5 2.1,2.1 2,2.9 4.3,5 2.3,2 1.4,2 6.1,6.4 2,0.9 2.1,3 3.5,3.7 0.5,0.8 2,1.4 1.6,1.9 0.4,0 2,2 0.1,0.4 2,1.1 2.4,2.5 1.6,2.2 1.7,1.8 2.3,2 2.1,1.2 0.7,0.8 1.3,1.9 2,2.1 2,1.9 2.1,0.1 0.9,2 1.1,0.4 0.9,1.6 1.1,1.2 1.8,0.8 0.6,2.1 1.6,1.7 2.1,0.3 0.5,2 1.7,2 5.9,6 2,0.3z"/>
<path fill="#365c8d" fill-rule="evenodd" d="M217.2,235.1l1.1,-1.8 1.7,-2.2 0.3,-0.7 1.1,-1.3 2,-4 0.5,-2 2.5,-4.1 -0.7,-2 0.7,-1.1 2,-0.9 -0.9,-2 0.6,-2 2.3,-2 0.5,-2 0.3,-2 -1,-2 0.2,-1.3 0.5,-0.7 -0.5,-0.8 -0.3,-1.2 1.8,-2 -0.5,-4.1 -1.3,-2 -0.4,-4 -1.1,-2 -0.7,-2 -1.9,-2 -1,-2 -2.2,-2 -1.2,-2 -3.4,-4 -1.2,-2 -0.7,-0.8 -1.8,-1.2 -1.6,-2.1 -0.7,-0.1 -1.2,-1.9 -1,-2 -1.8,-1.4 -4.1,-4.6 -2,-1.8 -1.2,-2.2 -2.2,-2 -3.2,-4 -2.4,-2 -1.3,-2 -1.8,-1.4 -2.2,-2.6 -1.4,-2.1 -4.5,-4.2 -2,-2.4 -2,-1.8 -2,-2.4 -1.9,-1.2 -1.3,-2 -9.4,-10 -5.2,-6.1 -7.9,-10 -4.6,-6.4 -6.1,-9.4 -4,-6.9 -4.8,-9.4 -3.3,-7.3 -2,-4.8 -0.6,-2 -1,-2 -0.5,-2 -0.7,-2 -0.4,-2 -0.8,-2 -0.2,0 -0.6,2 -1.3,2 -0.4,4 -1,2 -0.6,5.1 -0.1,3 -0.6,2 -0.6,8 -0.2,10 0.3,6.1 0.9,8 1.3,8 1.1,4 1.1,6.1 2.2,8 3.5,10 2.5,6 2,4.1 0.8,2 4,7.2 0.8,0.8 0.9,2 4.3,7 5.3,7 0.8,1.5 3.8,4.6 4.3,4.3 2.6,3.7 2.3,2 1.1,1.6 2,1 2.1,3.2 4,4.1 2.5,2.1 1.7,2 3.9,3.3 1.6,0.8 0.4,2 4,2.9 1.1,1.1 1,1.6 4,4.1 2,1 0.8,1.3 1.6,2 1.7,0.8 1.4,1.2 1.7,2 1.3,2 1.6,1 1,1 1.2,2.1 1.9,1.1 0.7,0.9 0.8,2 2.5,2.7 0.7,1.3 1.3,1.2 0.5,0.8 1.9,2 1.7,0.3z"/>
<path fill="#39568c" fill-rule="evenodd" d="M217,235.1l2.5,-4 0.8,-2 1.1,-2 0.2,-2 2.1,-4.1 -0.5,-2 1.1,-1.3 0.4,-0.7 0.3,-2 0.9,-2 -0.3,-2 0.8,-1.5 0.4,-0.5 -0.1,-4 1.2,-2 -1.1,-2 0.2,-2 -0.6,-1 -1.3,-1 -0.8,-0.3 -0.9,-1.7 0.9,-1.5 1.5,-0.6 1.1,-2 -0.5,-0.7 -2.1,-1 -0.1,-0.3 1.3,-2 -1.4,-2 -1.9,-2 -0.8,-2 -1.4,-2 -0.8,-2 -0.9,-0.7 -2,-3 -2.1,-0.7 -1.5,-1.6 -0.5,-2.2 -2,-1.1 -0.9,-0.7 -0.3,-2.1 -0.8,-1 -4.1,-3.8 -2,-2.6 -2,-2.3 -0.5,-0.3 -1.2,-2 -2.2,-2 -2.2,-2.8 -2,-1.1 -1.1,-2.1 -7.2,-8 -2.3,-2.1 -5,-6 -2.4,-2 -1.5,-2 -2.2,-2 -4.5,-5.3 -2.7,-2.7 -7.4,-8.9 -5.6,-7.2 -2.8,-4 -7.8,-12.5 -5.3,-9.6 -2.8,-5.7 -2,-4.5 -4,-10.3 -1,-3.6 -0.9,-2 -0.4,-2 -1.8,-5.9 -0.6,1.9 -1.2,2 -0.4,4 -0.7,2 -0.9,10.1 -0.4,12 0.2,6 1,10.1 1.8,10 1.3,6 3.3,12.1 2.7,8 4.9,12 1.3,2.1 2.8,6 2.5,4 0.8,2 1.5,2 1.2,2 1.1,1.5 0.7,0.5 1.4,2.6 1.5,1.4 0.5,2 2,1.9 1.4,2.1 2,2.1 1.3,2 3.7,4 2.2,2 0.9,2 1.7,2 2.4,2 0.6,0.8 2,1.6 1,1.6 1.6,2 4.5,4 1,1.5 5.6,4.6 1,2 1.4,1.1 2.1,2.1 2,0.3 0.5,0.5 0.8,2 0.7,0.6 0.9,1.4 2.4,2 1.4,2 1.4,1.3 2,1.6 2.5,3.1 3.8,4 1.2,2.1 0.6,0.3 2,-0.7 0.3,0.4 -1,2 0.7,1.3 2,2.3 1.4,2.4 0.6,0.6 0.9,1.4 1.9,2 1.3,0.2zM226.4,195.8l0.2,-0.8 -0.2,-1.2 -0.4,1.2z"/>
<path fill="#3c508b" fill-rule="evenodd" d="M216.8,235.1l2.1,-4 0.3,-2 1.2,-2 -0.3,-2 0.2,-1.2 1.5,-2.9 0,-2 0.5,-1 0.8,-1 0.1,-2 -0.9,-0.6 -1,-1.4 1,-1.3 1.1,-0.7 -1.1,-1.1 -0.4,-0.9 0.4,-0.8 1,-1.2 0.5,-2 0.7,-2 -1.6,-2 0.4,-4 -1.4,-2 0.7,-2.1 0.3,-2 -1.4,-2 -0.6,-2 -1.2,-2 -0.3,-2 -1.1,-1 -2,-1.3 -0.6,-1.7 -1.1,-2 -1.5,-2 -2.1,-2 -0.8,-1.3 -2,-0.4 -0.3,-0.3 -0.2,-2 -1.5,-1.7 -1.3,-0.3 -0.5,-2.1 -1.1,-2 -1.2,-1.6 -2,-2.2 -2,-1.1 -2,-2.9 -0.8,-0.2 -1.3,-2.3 -2.1,-1.7 -3.9,-4.4 -2,-2.9 -1.1,-0.7 -1.6,-2 -1.4,-1.2 -0.5,-0.8 -2,-2 -3.2,-4.1 -2.1,-2 -2.3,-2.8 -2,-1.9 -7.8,-9.3 -2,-2 -3.4,-4 -1.4,-2 -1.8,-2.1 -7.8,-11 -4.1,-6.7 -4.6,-8.3 -4,-8.1 -3.5,-7.8 -2,-5.1 -2,-5.9 -0.8,-3.3 -1.3,-3.4 -0.4,-2.6 -1.6,-5.5 -0.4,1.5 -1.1,2 -1.2,8 -0.5,8.1 0.1,12 0.4,6 1.2,10.1 1.3,6 0.6,2 0.1,2 0.7,2 1.5,6 3,10.1 2.4,6 0.4,2 1,2 0.5,2 2.7,6 1.3,2 0.6,2.1 1.6,3.2 1.5,2.8 1.6,2 0.9,1.5 2,4.5 2.1,2.1 1.2,1.9 0.8,1.6 2.6,2.4 0.3,2 1.4,2 2.9,2 4.9,7.6 2,0.5 0.9,2 1.2,2 2,2.1 1.4,1.9 2.3,2 2.3,3 1.5,1 4.6,4.7 1,1.3 3,2.4 2,2.6 2.1,1.7 0.8,1.4 1.2,0.6 1.5,1.4 0.5,0.7 2.6,1.3 1,2 3.4,4 1.1,0.9 2.4,1.1 0.1,2 3.5,4.1 4.9,4 -0.8,2 2,2.3 0.8,1.7 2.4,4 1.9,2 1,0.1zM220.3,193.9l-0.8,-1 0.3,-2 0.5,-0.8 1.1,0.8 0.6,2z"/>
<path fill="#3e4989" fill-rule="evenodd" d="M216.6,235.1l1.8,-4 -0.2,-2 0.1,-0.6 0.7,-1.4 0.7,-4 -1.5,-2.1 0.1,-0.1 2,-0.6 0.6,-1.3 0.7,-4 -2.2,-4 1.5,-2 -1,-2 0.4,-0.8 1,-1.2 -0.3,-2 -0.5,-2 -0.1,-2 0.5,-2 -0.6,-1 -0.2,-1 -1.7,-2.1 0.2,-2 0.4,-2 -2.7,-2.7 -0.7,-1.3 0.1,-2 -1.5,-1.5 -2,0.2 -0.4,-0.7 0.4,-1 1.3,-1 -1.3,-1 -2.3,-1 -1.3,-2 -0.4,-0.1 -0.4,-1.9 -1.6,-2.1 -2.1,0.3 -0.3,-2.2 -1.7,-3.2 -2,-0.5 -0.3,-0.4 0.4,-2 -2.1,-1.1 -1.2,-0.9 -1,-2 -3.8,-4 -1,-2 -3.1,-2.6 -1,-1.4 -2,-2 -0.8,-2 -2.3,-1.8 -4,-4.6 -1.3,-1.6 -2.8,-2.4 -2,-3.1 -2,-1.8 -2,-2.8 -2,-2 -4.1,-4.9 -2,-2.1 -2.2,-3 -2,-2 -8.7,-12.1 -5.3,-8.6 -6,-11.4 -4.1,-8.6 -4,-10.3 -2,-6.2 -1.3,-5.1 -0.8,-2.3 -0.5,-3.7 -1.5,-5.1 -1.3,3.1 -0.4,2 -0.5,6 -0.4,8.1 0.3,10 0.7,8 1.6,10.1 1.2,6 0.8,2 0.3,2 1.8,5.6 0.4,2.4 2.8,8.1 0.8,3 2,5.3 0.9,1.7 1.4,4 0.9,2 0.6,2 1,2 1.3,2.2 0.9,1.9 0.6,2 2.3,4 1.4,2 2,4 2.8,4 1,2 3.6,4 2.1,4 2.5,2 1.4,2.1 1.6,2.6 2,1.6 2,2.5 2.1,0.5 0.5,0.8 0.1,2 1.4,1 0.8,1 0.9,2 2.3,2.2 2,-0.4 0.3,0.2 1,2 0.8,0.8 0.6,1.2 0.5,2 0.9,1 1.5,1 0.5,0.7 2,0.9 2.5,2.5 0.5,2 1.1,0.9 1.2,-0.9 0.8,-0.4 0.3,0.4 0.5,2 0.9,2 0.3,0.2 1.1,1.8 0.9,0.5 4.4,3.5 0.9,2 0.8,0.8 0.6,1.2 3.1,2 0.2,2 1.4,2 3.6,4 1.2,0.8 1.2,1.3 -0.4,2 1.8,2 0.8,2 2.2,4 1.8,2zM215.9,213l0.4,-0.6 0.7,0.6 -0.7,0.7zM218.1,205l0.2,-0.2 0.6,0.2 -0.6,0.3z"/>
<path fill="#414487" fill-rule="evenodd" d="M216.4,235.1l1.5,-4 -0.3,-2 1,-4 0.3,-2 -1.4,-2.1 0.8,-1.6 0.8,-0.4 0.3,-2 -1.1,-0.8 -0.9,-1.2 -1.1,-0.7 -0.7,-1.3 0.7,-1.1 1.3,1.1 0.7,1.1 1.1,-1.1 -1,-2 -0.3,-2 0.4,-2 -1,-2 0.8,-1.4 0.8,-0.6 -1.1,-2 0.7,-2 -1.2,-2 -2,-2 0.6,-2.1 -0.4,-2 0.7,-2 -0.6,0 -1.6,0.6 -0.7,-2.6 0.4,-2 -1.7,-0.8 -1.5,-3.2 -0.5,-1.6 -3.1,-2.4 -1.3,-2 -1.7,-1.2 -1.9,-2.8 -0.8,-2 -1.3,-1.8 -0.5,-0.2 -1.5,-2.6 -2,-0.6 -0.8,-0.9 -1.3,-2.6 -4,-5.4 -2,-1.3 -2.8,-2.7 -0.9,-2 -4,-4 -1.2,-2 -1.2,-0.9 -1.1,-1.1 -1.4,-2 -1.6,-1.9 -2.3,-2.2 -1.1,-2 -2,-2 -6.7,-7.9 -2,-2.1 -4.9,-6 -9.2,-13.1 -5.4,-9 -6,-12 -4.8,-11.4 -4,-11.9 -2.1,-7.9 -0.7,-5 -1.3,-4.7 -1,2.7 -0.7,4 -0.3,12.1 0.5,10 1.2,10 2.9,14.1 1.7,6 1.5,4 1.7,6.1 1.5,4 0.5,2 1,2 0.6,2 0.7,2 1.1,2 1.4,4 2.7,6 1.2,1.4 0.3,0.6 0.6,2.1 1.2,2 1.5,4 1.8,2 0.8,2 1.9,2.3 1,1.7 1,2.6 2.1,1.4 0.3,2 3.7,4.7 2,0.8 0.5,0.5 0.3,2 1.9,2.1 1.3,2 2,2.5 2.1,0.7 4,5.4 2,3.4 2,1 1.4,1 1.4,2 1.3,3.1 4,3.3 2,2.3 1.9,1.4 0.2,0.3 2,0.5 1,1.2 3,4.7 1.1,1.3 0.9,0.6 1,1.4 2.7,2 1.6,2 0.6,2 0.2,0.1 2,-0.3 0.5,2.2 2.2,2 -0.2,2 3.1,4 2.1,2.1 -0.1,2 1.9,2 1.4,4 1.2,2 1.8,2z"/>
<path fill="#433d84" fill-rule="evenodd" d="M216.3,234.9l1,-3.8 -0.3,-2 0.7,-2 0.3,-4 -1.2,-2.1 1,-2 0.1,-2 -1.6,-2.1 -1,-1.9 1,-1.6 0.9,-0.4 -0.2,-2 -1,-2 0.8,-2 -0.8,-2 -0.3,-2 0.8,-2 -0.1,-2 -2.1,-2 0.3,-2.1 -1.6,-2 -0.8,-2 -2,1.1 -0.2,-1.1 1.3,-2 -1.1,-1.3 -2,-0.8 -0.8,-1.9 0.6,-2 -0.7,-2 -1.1,-0.9 -2.1,-2.6 -0.8,-0.5 -1.2,-2 -1.6,-2 -0.4,-0.9 -2,-1.5 -1.5,-1.6 -1.1,-2.1 -1.5,-1.6 -2.6,-2.4 -1.3,-2 -1.7,-2 -1.2,-2 -1.2,-1.7 -2.1,0 -1.1,-2.3 -2.6,-4 -2.3,-1.8 -2.2,-2.2 -1.9,-2.9 -1.9,-1.1 -2.1,-2.9 -0.4,-1.2 -1.6,-1.6 -0.9,-0.4 -1.1,-1.2 -0.5,-0.8 -0.7,-2 -0.9,-1.1 -1,-0.9 -6.6,-8 -2.5,-2.8 -2,-3.2 -8.2,-12.1 -5.7,-10 -0.7,-2 -3.6,-7.1 -4.3,-11 -3.7,-11.5 -2.1,-8.2 -0.9,-6.4 -1.1,-4.2 -0.8,2.2 -0.7,4 -0.2,4 0.1,8.1 0.8,10 1.4,10 1.9,8.1 0.3,2 1.6,6 1.9,6 0.9,2 3.9,12.1 4.2,10 0.9,2.6 2,3.5 0.8,1.9 3.2,5.8 1.8,4.3 4.5,6 0.7,2 2.5,4 0.6,1.6 1.9,2.4 3.9,4 0.3,1.2 0.5,0.8 1.5,1.4 2.3,0.7 0.2,2 1.9,2 1.7,2.6 2,1.3 0.9,2.1 2.8,4 2.4,1.4 1.9,2.6 1,2 1.1,1 2,0 0.8,1 0,2 1.2,1.6 2.1,1 2,1.5 1.8,2 2.2,3.1 1.2,0.9 0.8,0.9 2.1,3.1 2,1.4 2,-0.4 0.6,1 0.5,2 0.9,0.6 0.8,1.4 0.5,2 2.3,2 0.5,2 2,1.3 0.2,0.7 0,2 1.9,2.1 0.1,2 1.8,1.8 0.4,0.2 0.8,2 0,2 0.8,1.4 0.7,0.6zM210.2,205.3l-0.2,-0.3 0.2,-0.8 0.5,0.8zM193.9,186.9l0.1,-0.2 0.1,0.2 -0.1,0.2z"/>
<path fill="#453581" fill-rule="evenodd" d="M216.3,233.9l0.5,-2.8 -0.3,-2 0.9,-2 -0.4,-2 0.2,-2 -1,-2.1 1,-2 -0.4,-2 -0.5,-0.7 -1.4,-3.3 1.1,-2 -0.6,-2 0,-4 -1.2,-2.7 -0.3,-1.3 0.1,-2 0.3,-2 -2.1,-1.4 -2,-0.3 -0.2,-0.3 -0.3,-2.1 -1.5,-2 1.9,-4 -1.9,-0.9 -1.1,-1.1 -0.7,-2 -0.2,-1.7 -1.8,-2.3 -0.3,-0.8 -2,2.2 -0.2,-1.4 -1.8,-2 1.3,-2 -1.3,-1.2 -2,-0.4 -0.4,-0.4 -0.2,-2 -3.1,-4 -0.4,-2.1 -2,0.3 -1,-0.3 0.2,-2 -1.2,-0.8 -2,-1 -0.2,-0.2 0.1,-2 -1.9,-1.6 -1.6,-2.4 -0.5,-0.2 -2,-2.8 -1.6,-1 -1.2,-2 -1.2,-1.7 -0.6,-0.3 -1.2,-2 -2.3,-1.6 -1.6,-2.4 -0.4,-0.3 -3,-3.7 -1,-2.1 -2,-1 -1,-1 -1.1,-1.4 -1.3,-2.6 -2.3,-2 -2.4,-4 -4.1,-4.8 -3.8,-5.2 -4.2,-6.5 -6.1,-10.2 -2.7,-5.4 -5.4,-11.9 -0.6,-2.2 -2.3,-6 -3.1,-9.7 -0.9,-4.3 -1.2,-4.2 -0.7,-5.9 -1.3,-5.7 -1,3.7 -0.5,4 0.3,10.1 0.5,6 1.3,10 0.6,2 0.6,4.1 1.9,8 1.2,4 4.7,14 0.9,2.1 0.6,2 1,2 0.4,2 1.6,4 2.1,3.8 0.6,2.2 1.1,2 0.7,2 1.2,2 0.5,2 2.2,2 0.2,2.1 1.6,3 2,2.2 0.8,2.8 1,2 2.2,1.5 0.5,0.5 0,2 1.5,1.8 0.5,0.2 0.5,2 1.1,1.2 1.3,0.8 0.3,2 0.4,0.4 2,1.1 1.5,2.5 1.4,2 3.2,2.1 0.1,2 1.9,1.9 2,1.7 0.8,0.4 1.3,4 1.9,2.5 2.2,1.5 3.9,5.4 2,0.2 0.6,0.4 1.2,2 0.2,2.1 2.1,0.9 2,1.5 2,2.3 2,0.9 4.1,4.2 0,0.9 -0.4,1.3 1.6,2 0.8,0.5 2,-0.5 2.4,4 1,2 0.6,2 2.5,2 1.1,2 0.5,0.3 0.6,1.7 0.4,2 1.8,2.1 0,2 1.2,1.2 1.9,0.8 0.9,2 -0.8,0.3 -0.4,1.7 0.4,0.8 1.5,1.2zM212.1,219l0.3,0 -0.2,0.3zM209,217l1.2,-0.1 0.1,0.1 -0.1,0.2zM211.9,207l0.3,-0.5 0.6,0.5 -0.6,0.3zM210.2,205.7l-0.4,-0.7 0.4,-1.6 1,1.6zM198.1,196.7l0.3,0.3 -0.3,1.3 -0.3,-1.3zM193.6,186.9l0.4,-0.6 0.4,0.6 -0.4,0.7zM198.1,178.4l0.4,0.5 -0.4,0.3 -0.2,-0.3zM183.9,162.1l0.6,0.7 -0.6,0.4 -0.3,-0.4z"/>
<path fill="#472f7d" fill-rule="evenodd" d="M214.2,231.1l2.1,0.5 0,-0.8 -2.1,0zM216.3,228.6l0.7,-1.5 -0.8,-2 0.2,-2 -0.6,-2.1 0.8,-2 -0.3,-1 -2.1,-0.5 -0.2,-0.5 0.2,-0.8 0.9,-1.2 -0.5,-2 0,-2 -0.4,-0.6 -0.3,-1.4 0.7,-2 -0.4,-0.9 -0.4,0.9 -1.6,0.8 -2,-1.8 -0.6,-1 0.4,-2 -0.3,-2 0.5,-1.2 0.9,1.2 0,2 0.6,2 0.5,0.8 1.3,-0.8 -0.4,-2 -0.2,-4 -0.7,-1.7 -0.3,-0.3 -1.7,-0.7 -2.9,-5.4 1.2,-2 -0.3,-1.5 -2.1,1.5 0,-2 -0.4,-2 -1.6,-1.2 -0.6,-0.8 -1.4,-1.2 -2,-0.1 -2,-1.7 -0.5,-1 0.5,-1.6 0.5,-0.4 1.5,-2 -2,-0.5 -1.2,-1.5 -0.8,-2.4 -2.1,0.4 -0.4,-2 -0.9,-2 -0.7,-0.6 -2,-0.5 -0.6,-1 -0.6,-2 -0.8,-0.5 -2,-2.8 -0.8,-0.7 -0.7,-2 -2,-2 -0.6,-1.1 -0.9,-0.9 -1.1,-0.6 -1.5,-1.4 -0.5,-1.2 -0.9,-0.8 -1.1,-0.7 -0.7,-1.3 -1.6,-2 -1.8,-2.8 -2,-0.7 -2.3,-2.5 -0.2,-2 -1.5,-1.5 -1,-0.6 -1.1,-1.1 -0.3,-0.9 -1.7,-2.7 -2,-2 -2,-3 -0.5,-0.3 -1.5,-2 -4.1,-6 -4.9,-6 -2,-4.1 -1.4,-2 -4.4,-8 -1.4,-2 -0.6,-2 -2.9,-6 -1.6,-4 -1.1,-2 -2.6,-8.1 -0.9,-2 -2.4,-8.2 -1.3,-5.8 -0.8,-2.5 -0.9,-7.6 -1.1,-5 -0.8,3 -0.5,4 0.4,10.1 1.2,10 0.5,2 0.1,2 0.3,2 0.8,2 0.4,4.1 0.7,2 0.4,2 1.7,6 5.5,16 4.9,12.1 1.1,2 0.7,2 1.8,4 4.2,8 0.5,2.1 1.3,2 2.1,2 0.4,2 2.2,4 0.4,0.2 1.5,1.8 0.5,1.6 2.1,0 0.3,0.4 0.5,2 -0.1,2 1.3,1 0.9,1 1,2 2.1,3.2 2,0.4 0.4,0.4 0.2,2 2.5,2.1 0.5,2 4.5,3.3 0.6,0.7 0,2 2.4,4 2.4,2 0.7,1.1 2.3,0.9 1.1,2 0.6,0.1 2,1.4 0.3,0.5 1.9,2 0.9,2 1,0.7 0.6,1.3 1.4,1.5 2,0.7 1.2,1.9 3.6,4 0.6,2 0.7,1 2,0.1 3.1,4.9 1.6,4 2.6,2 0.8,1.2 2,0.3 0.4,0.5 -1.5,2 0.9,2 1.6,2.1 0.1,2 0.5,0.5 2.7,1.5zM211.6,219l0.6,-0.3 0.7,0.3 -0.7,1zM204.3,211l1.5,-2 0.4,-0.1 0.3,2.1 -0.3,0.6zM200.1,200.5l0.3,0.5 -0.3,0.9 -0.7,-0.9zM198.1,199.4l-0.6,-0.4 0,-2 0.6,-0.6 0.8,0.6zM207.7,197l0.5,-0.6 1.1,0.6 -1.1,0.3zM193.2,186.9l0.8,-1 0.6,1 -0.6,1.1zM183.9,183.7l-0.5,-0.8 0.5,-1.1 0.3,1.1zM175.3,176.9l0.6,0 0,0.1zM183.9,161.3l1.1,1.5 -1.1,0.7 -0.6,-0.7zM200.1,179.7l0.8,-0.8 -0.8,-0.9 -0.7,0.9z"/>
<path fill="#482878" fill-rule="evenodd" d="M216.3,227.8l0.3,-0.7 -1,-2 0.1,-2 -0.3,-2.1 0.5,-2 -1.7,-0.9 -0.5,-1.1 0.7,-2 -0.1,-2 -1,-4 -3.1,-2.6 -0.8,-1.4 0.1,-2 -0.4,-2 0.8,-2 -2.8,-2 1.7,-2 -1.4,-2.1 -1.2,-2.5 -2.1,-1.1 -0.2,-0.4 -0.2,-2 0.3,-2 -1.9,-2.3 -2,-0.3 -2,0.8 -0.8,-0.2 0.8,-0.7 0.4,-1.3 -0.4,-0.4 -0.9,-1.6 0,-2 -0.4,-2 -0.9,-2 -3,-2 -0.4,-2 -0.5,-1 -2.4,-1 -1.6,-3.2 -2,-2.7 -0.6,1.8 -1.5,1 -1,-1 0.7,-2 -1.8,-2 0.1,-2 -2,-0.5 -0.3,-1.5 -1.7,-2.2 -0.9,-1.8 -1.8,-2 -1.4,-2.2 -1.7,-1.8 -1.5,-2 -0.8,-0.4 -2,-2.2 -1.7,-1.4 -0.3,-1.1 -0.7,-0.9 -1.4,-0.9 -0.8,-1.2 -1.9,-4 -2.2,-2 -1.1,-2.4 -2.2,-1.6 -1.9,-2.5 -0.6,-1.5 -2.8,-4 -3,-4 -1.6,-1.8 -0.8,-2.2 -1.1,-2.1 -1.5,-2 -2.7,-4.7 -6.1,-12.7 -3.4,-8.7 -1.9,-6 -0.7,-1.6 -1.1,-4.4 -0.9,-2.8 -1.6,-7.2 -0.9,-2 -0.4,-6.1 -1.2,-6.3 -1,4.3 -0.2,2 0.7,10.1 0.6,4 0.6,6 0.7,2 0,2 1.1,4 0.5,4.1 0.9,2 0.3,2 1.3,4 0.4,2 2.2,5.9 0.5,2.1 1,2 1.9,6 0.9,2.1 1.3,2 0.4,2 0.8,2 1.3,2 0.9,2 3.1,7.6 2,3.1 1.6,3.3 0.6,2 1.7,2.1 0.7,2 2.2,2 1.3,1.4 0.3,0.6 -0.1,2 1.8,2.8 1.3,1.2 0.8,0.4 1.1,1.6 0.9,2.7 2,2.8 2,4.4 2,-0.3 2.3,2.4 -0.4,2 2.2,2.1 0.8,2 3.2,2.2 1.4,1.8 0.1,2 0.5,0.8 2.1,0.6 0.5,0.6 1,2 0.5,0.4 0.5,1.6 1.5,0.9 1.4,1.1 0.6,0.8 0.5,-0.8 0.1,-2 1.4,-0.5 1,0.5 -0.3,2 -0.6,2 0.9,2 3.1,3.5 1.1,0.5 0.4,2 0.5,0.5 2,1 0.7,0.6 3.4,4.3 0.4,-0.3 0.6,-2 1,-0.9 1.3,0.9 -0.6,2 -1.5,2 0.8,1.3 0.7,-1.3 1.3,-0.9 0.5,0.9 -0.5,1.8 -0.6,0.2 0.6,0.2 1.3,1.8 2.7,4.6 0.5,-0.6 1.6,-0.5 0.8,2.5 -1.5,2 2.7,2 2,1.2 0.6,0.8 -1.3,2 0.7,1.5 0.9,-1.5 1.1,-0.5 1.2,0.5 -1.2,1.7 -0.8,0.3 0.8,1.8 0.1,2.3 3.3,2zM203.3,192.9l0.8,-0.9 0.9,0.9 -0.9,0.7zM200.1,189.3l1.4,1.6 -1.4,0.3 -0.4,-0.3zM192,188.8l0.3,0.1 -0.3,0.5zM192.9,186.9l1.1,-1.4 0.9,1.4 -0.9,1.6zM189.9,184.9l0.1,-0.1 0.1,0.1 -0.1,0.2zM193.8,180.9l0.2,-0.3 0.4,0.3 -0.4,0.4zM179.4,174.9l0.5,-0.4 0.4,0.4 -0.4,0.6zM161.1,152.8l0.6,-0.5 0.6,0.5 -0.6,0.5z"/>
<path fill="#482071" fill-rule="evenodd" d="M214.2,225.7l0.9,-0.6 0,-2 -0.3,-4.1 -0.6,-0.3 -1.6,2.3 0.4,2.1 0.1,2zM210.2,219.8l0.5,-0.8 -0.5,-0.4 -0.4,0.4zM212.2,218.2l1.3,-1.2 -0.1,-2 -0.8,-6 -2.4,-2.3 -1,-1.7 -0.6,-4 0.7,-2 -1.1,-0.8 -2,1.1 -0.3,-0.3 0.6,-2 1.4,-2 -1.7,-2.8 -0.4,0.7 -1.7,1.4 -1.6,-1.4 -0.4,-0.8 -2,-0.7 -0.8,-0.5 0.3,-2 0.5,-0.6 2,2 1,-1.4 -1,-2 0.8,-2 -0.8,-1 -0.9,1 -1.1,0.6 -2,-1.9 -2.9,-0.7 -1.2,-0.7 -0.6,-1.3 0.6,-1.1 1.4,1.1 0.7,1.1 1.2,-1.1 -0.4,-2 -0.8,-1.9 -4.1,-2.8 -0.3,-1.3 -1.1,-2 -0.6,-2 -2,-1.1 -0.6,-0.9 -1.4,-1.6 -0.2,-0.5 -1.9,-0.7 -1.3,-1.3 -0.3,-2 -1.2,-2 -1.2,-1.3 -1.2,-0.7 0.1,-2 -2,-2 -3,-4.6 -1.6,-1.4 -2.4,-3 -2,-1 -1,-2 -2.6,-2 -0.5,-0.6 -0.4,-1.4 -1.6,-2.1 -1.9,-4 -2.1,-1.4 -0.5,-0.6 -0.9,-2 -0.6,-0.4 -3.1,-3.6 -0.6,-2 -2.4,-3.2 -2,-2.4 -1.5,-2.4 -0.5,-0.7 -0.9,-1.3 -1.2,-2.5 -2,-2.8 -2,-3.7 -2.2,-5.1 -3.9,-7.7 -0.7,-2.3 -1.3,-2.9 -0.3,-1.1 -1.8,-4.1 -0.4,-2 -1.5,-4.4 -2,-6.9 -2,-8.7 -1,-2 0,-6.1 -1.1,-5.5 -0.8,3.5 -0.2,2 0.8,10.1 0.5,2 0.2,4 0.4,2 0.2,2 0.9,2 0,2 0.3,2 0.6,2 0.7,4.1 0.8,2 0.4,2 1.5,4 0.3,2 0.9,2 1.8,6 1.1,2 0.6,2 0.9,2 0.5,2 1,2.1 1.4,2 0.2,2 0.8,2 2.4,3.4 0.9,2.6 1.1,1.7 0.6,2.3 0.7,2 1.5,2 2.1,4 0.4,2 1.7,2.1 1,2 2.3,2 0.9,2 1.2,2 0.4,2 1.4,1.3 1.9,2.7 1,2 1.6,2 1.1,2 0.7,2 1.7,0.6 0.9,1.4 2.1,2 0.5,2 0.6,0.6 2,3.3 2.8,2.2 1.2,1.7 1.1,0.3 -0.6,2 1.6,0.8 1.1,1.2 0.9,1.3 1.3,0.7 0.7,1.9 2,-0.9 2,-0.6 2.3,1.6 -1.2,2 -0.2,2 0.9,2 2.3,2.6 2,1.1 2,-2.5 0.6,-1.2 1.4,-1.8 1.1,1.8 -1.1,2 0.2,2 -0.2,0.8 -2,-0.2 -1.5,1.4 1.5,0.9 1.4,1.2 2.7,3.6 0.7,-1.6 1.3,-1.2 2.1,-0.8 -0.3,2 -0.7,2 0.9,0.8 0.8,1.2 -0.5,2 1.7,2 2,3.2 2.1,0 1.3,2.8 -1,2 1.7,0.9 0.6,1.1 1.4,0.8 0.9,1.2zM202.1,199.2l-0.5,-0.2 -1,-2 1.5,-0.6 0.5,0.6 -0.2,2zM195.6,195l0.5,-0.2 0.2,0.2 -0.2,0.2zM189.5,184.9l0.5,-0.5 0.4,0.5 -0.4,0.7zM178.8,174.9l1.1,-0.8 0.8,0.8 -0.8,1.2zM169.3,164.8l0.5,-0.1 0.1,0.1 -0.1,0.2zM173.7,164.8l0.4,0 -0.3,0.2zM162.9,156.8l0.8,-0.1 0.4,0.1 -0.4,0.6zM160.4,152.8l1.3,-0.9 1.1,0.9 -1.1,1zM171.8,150.9l0,-0.6 0.4,0.5zM159.7,148.6l0.2,0.2 -0.2,0.5 -0.2,-0.5zM198.1,201.2l0.1,-0.2 -0.1,-0.2 -0.2,0.2zM204.4,190.9l-0.3,-0.1 -0.2,0.1zM194,174l0.6,-1.1 -0.6,-0.4 -0.8,0.4z"/>
<path fill="#481a6c" fill-rule="evenodd" d="M214.2,225.3l0.3,-0.2 0.2,-4.1 -0.5,-1.5 -0.9,1.5 0.5,2.1 0.1,2zM212.2,218l1,-1 -1,-2.7 -0.1,-1.3 0.1,-2 -0.3,-2 -1.7,-1.7 -1.2,-2.3 -1,-4 0.6,-2 -0.4,-0.3 -2,1 -0.7,-0.7 0.3,-2 -1.7,-2 -2,-1.6 -0.2,-0.5 -3.1,-2 0.1,-2 1.2,-1.3 1,-0.7 -1,-0.6 -2,-2.1 -2,-0.6 -1.7,1.3 1.7,3.7 0.6,0.3 -0.6,0.4 -1.3,1.6 -0.3,2 2.5,2.1 1.1,0.4 2,-0.9 2,1.4 1,1.1 -0.3,2 -0.7,0.6 -1,1.4 -0.2,2 1.2,1.5 1.7,0.5 0.4,2 2,0.8 1.8,3.2 0.3,2 1.1,2 0.8,0.5 1.1,1.5zM208.9,211l1.3,-0.5 2,0.5 -2,0.2zM200.1,199.4l0.8,-0.4 -0.8,-1.3 -0.5,1.3zM196.1,197.7l0.3,-0.7 -0.3,-0.9 -0.7,0.9zM191.5,192.9l0.5,0.3 1,-0.3 -1,-0.4zM190,190l3.8,-5.1 0.1,-2 -1,-2 1.1,-1.8 2.1,1.4 0.4,-1.6 -0.4,-1.1 -2.1,0.4 -0.3,-1.3 -1.7,-1.5 -1.3,-0.5 0.3,-2 -3,-3.6 -1.8,1.6 -0.2,0.9 -0.6,-2.9 0,-2 -0.4,-2.1 -1.1,-0.4 -1.6,-1.6 -0.4,-1.1 -2,0.2 -0.2,-1.1 0.7,-2 -0.5,-0.5 -2,-0.4 -0.3,-1.1 0.3,-2 -2.4,-2 -1.7,-2.2 -0.1,0.2 -1.9,0.8 -0.5,-0.8 0.2,-2 -2.3,-2 0.2,-2 -2.8,-2 -1.5,-2 -1.4,-1.1 -0.6,-0.9 -0.7,-2 -1.8,-2.1 -0.9,-2.2 -2.3,-1.8 -1.6,-2 -1,-2 -1.5,-2 -1.9,-2 -2,-4 -1.8,-2.3 -4.8,-7.7 -1.3,-1.7 -4,-7.9 -0.9,-2.5 -1.9,-4 -1.3,-2 -1.3,-4 -1,-2 -0.4,-2 -1.8,-4.1 -0.4,-2 -3.2,-10 -1.2,-6 -0.8,-3.2 -1.4,1.2 0.2,6 0.5,2 0.2,2 0.9,2 -0.1,2 1.5,6 0.3,2.1 2.7,8 0.4,2 1.1,2 0.4,2 1.3,4 2.7,6 0.6,2 1,2.1 1.5,2 0,2 0.4,0.8 2,2.8 0.9,2.4 2,4 1.3,2 0.2,2 1.7,2.6 1.2,1.4 0.9,2 0.2,2 3.7,4.5 1.1,1.6 0.7,2 1.2,2 0.7,2 0.4,0.4 2,-0.8 0.3,0.4 -1.2,2 0.9,1.1 0.9,-1.1 1.1,-0.7 0.7,0.7 -0.6,2 1.9,0.6 1.7,1.4 -2.5,2 0.8,1.2 2,0 2,0.8 -1.6,2 1.2,2 2.1,2 0.4,1 2,-0.5 1.1,1.5 -1.5,2.1 0.4,0.5 4,3.9 0.9,-0.4 1.2,-1 1.6,1 -0.5,2 -1.5,2 0.4,0.2 2,2.3 2,0.5 1.5,-1 -1.5,-0.3 -1.6,-1.7 1.6,-1.2 1.2,1.2 0.8,1.8 4.8,4.2 -1.3,2 0.2,2 0.4,0.8 1.1,1.2 1.2,2zM189.1,184.9l0.9,-0.9 0.6,0.9 -0.6,1.1zM188,179.4l-0.4,-0.5 0.4,-1.1 0.5,1.1zM187.4,174.9l0.6,-0.6 1.1,0.6 -1.1,0.7zM172.7,164.8l1.1,-0.5 1.6,0.5 -1.6,0.9zM169.3,156.8l0.5,-0.4 0.4,0.4 -0.4,0.5zM202.1,189.2l0.2,-0.3 -0.2,-0.4 -0.2,0.4zM159.7,152.9l0,-1.4 -0.1,1.3zM121.3,56.7l0.6,-2.2 0.3,-4.1 0,-2 -0.9,-4.6 -0.6,2.6 -0.2,2z"/>
<path fill="#471164" fill-rule="evenodd" d="M214.2,221.8l0,-1.1 -0.2,0.3zM212.2,217.7l0.7,-0.7 -0.7,-1.5 -0.6,1.5zM210.2,215.1l0.6,-0.1 0.9,-2 -1.5,-1.4 -1.5,1.4zM208.2,210.8l2.7,-1.8 -1.5,-2 -2.1,-6 -1.1,-0.9 -1.1,-1.1 -0.1,-2 -0.9,-1.1 -0.5,1.1 -0.4,2 -1.1,0.9 -0.7,1.1 -0.1,2 0.8,0.9 2,0.5 0.4,0.6 0.6,2 1.1,0.4zM203.8,201l0.3,-0.5 0.6,0.5 -0.6,0.5zM203.1,195l-1,-0.8 -0.6,-1.3 -3.1,-2 -0.2,-2 -0.6,-2 0.6,-2 -2.1,-0.8 -1.1,0.8 0.6,2 0.5,1.2 1.7,0.8 -1.7,1.2 -0.7,0.8 -0.1,2 2.8,2.2 2,-0.9 2,1.2zM190,189.3l1.5,-2.4 0.5,-0.1 1.5,-1.9 -0.3,-2 -0.7,-2 0.4,-2 -0.1,-2 -0.8,-0.7 -2,-0.8 -1.8,1.5 0.8,2 -1.8,2 0.8,2 -2,-0.4 -0.3,0.4 0.7,2 1.6,1.7 0.8,-1.7 1.2,-1.3 0.9,1.3 -0.9,1.6 -1.3,0.4 0.7,2zM189.7,180.9l0.3,-0.3 0.4,0.3 -0.4,0.3zM186,179.9l1.1,-1 0.7,-2 -1.8,-2 -0.2,-2 -0.6,-2 -1.3,-2.6 -1.6,-1.4 1.6,-1.2 0.4,-0.9 -0.4,-0.1 -2,-1.9 -2,1.8 -2,-1.3 -0.2,-0.5 1.6,-2 -1.4,-1.6 -0.6,-0.4 -0.9,-4 -0.5,-0.4 -2.1,-0.8 -0.6,-0.8 -1.4,-0.6 -0.9,-1.4 0,-2 -2.6,-2 0.2,-2 -0.7,-0.6 -2,-0.4 -1,-1 -1.1,-2 -1.4,-2 -0.9,-2 -1.7,-1.8 -2,-1.7 -0.3,-0.6 -2.1,-2 -0.3,-2 -1.5,-2 -1,-2 -2.2,-2 -0.7,-1.1 -1.3,-2.9 -1.8,-2 -0.7,-2 -1.5,-2 -1.1,-2 -1.7,-2.4 -2,-3.8 -0.7,-1.9 -1.3,-2 -3.3,-8 -1.2,-2 -2.4,-6 -0.4,-2 -1.8,-4.1 -0.4,-2 -0.8,-2 -0.9,-4 -0.9,-2.4 -1.2,-1.6 0.4,-2 -1.3,-6.1 -0.8,2.1 -0.2,4 0.7,2 0.2,2 1,2 -0.2,2 0.4,2 1.4,4 0,2.1 3.4,10 0.9,2 1.7,6 3,6 1.5,4.1 1.4,2 0.4,2 1.4,1.7 0.6,2.3 4.2,8 0.6,2 0.7,1 2,2.2 0.3,0.8 1.6,2 -0.5,2 3.6,4.1 3.1,6.9 2,0.1 3.2,3 0.4,2 0.4,0.1 2.5,1.9 -0.5,0.6 -2.1,1.4 2.1,0.6 2.1,0.9 0.8,0.5 -1.7,2 0.9,1.6 2,0.3 2,1.6 1,0.5 1,2 -1,2.1 1.6,2 1.4,1.2 1.4,-1.2 0.7,-0.4 2.7,2.4 -0.3,2 1.6,0.4 1.6,1.6 0.4,0.9 2,1.6 0.8,1.5zM171.8,164.8l2,-1 2.6,1 -2.6,1.7zM175.5,160.8l0.4,-0.4 0.2,0.4 -0.2,0.2zM171.6,158.8l0.2,-0.1 0.2,0.1 -0.2,0.3zM168.6,156.8l1.2,-1 0.8,1 -0.8,1.1zM196.1,179.2l0,-0.5 -0.6,0.2zM190,173.9l0.4,-1 -2.4,-3 -1,1 1,1.9zM157.7,149l0.1,-0.2 -0.1,-0.2 -0.1,0.2zM121.3,54.8l0.7,-4.4 0,-2 -0.7,-3.8 -0.7,3.8z"/>
<path fill="#46085c" fill-rule="evenodd" d="M212.2,217.5l0.5,-0.5 -0.5,-0.9 -0.4,0.9zM210.2,214.7l1.1,-1.7 -1.1,-1.1 -1.2,1.1zM208.2,210.5l1.9,-1.5 -1.4,-2 -0.1,-2 -0.4,-1.2 -0.8,-0.8 -0.7,-2 -0.5,-0.4 -0.7,0.4 -1.4,1.2 -0.9,-1.2 -1.1,-0.7 -0.5,0.7 0.2,2 0.3,0.4 2,0.3zM204.1,199.9l0.6,-0.9 -0.6,-2.2 -0.5,2.2zM201.1,192.9l-3,-1.7 -2.1,-0.3 0.1,2 2,1.6 2,-0.6zM196.1,187.5l0.8,-0.6 0.1,-2 -0.9,-0.3 -0.5,0.3 0.2,2zM188,185.8l0.4,-0.9 -0.4,-1 -0.9,1zM192,186.3l1.1,-1.4 -1.1,-4.1 -2.8,2.1 0.8,0.3zM188,181.6l0.6,-0.7 -0.6,-0.3 -0.3,0.3zM186,179.5l0.7,-0.6 0.2,-2 -1.9,-2 0.4,-2 -1.5,-3.3 -1.7,-0.7 -2.3,-1.7 -2,0.3 -0.5,-0.6 1.3,-2.1 -0.8,-0.6 -0.5,-1.4 1.4,-2 -0.9,-1.1 -1.2,1.1 -0.8,0.5 -1.1,-0.5 1.6,-2 -0.5,-2.6 -2.1,1 -0.2,-0.4 -0.3,-2 -2.7,-4 -0.4,-2 -4.4,-3 -2.1,-2 -0.7,-1 -0.2,-2 -1.1,-1.7 -1.1,-0.3 -0.3,-2 -0.6,-0.6 -2.2,-1.5 -0.9,-2 -0.9,-0.9 -1.9,-1.1 0.4,-2 -0.6,-0.8 -2,-1 0.1,-2.2 -2.3,-2 -2.1,-4 -1.9,-2 -0.3,-2 -1.8,-2 -0.9,-2 -1.4,-2 -0.8,-2.1 -1.3,-2 -0.5,-2 -1.4,-2 -2,-4 -0.5,-2 -0.8,-2 -2,-4 -1.5,-4 -0.5,-2 -1.8,-4.1 -0.5,-2.6 -1,-1.4 0,-2 -0.5,-2 -0.5,-1.4 -0.8,1.4 -0.3,2 1.1,3.6 0.9,0.4 0.2,2 -0.3,2.1 1.2,3.3 0.6,0.7 0.2,2 2.4,6 0.5,2 1.1,2 0.1,2 3.3,6 1.4,4.1 0.5,0.6 2.7,5.4 0.4,2 2.9,5.1 0.8,0.9 1.3,3.5 0.3,0.5 2.2,2 0.8,2 1.4,2 -0.1,2 3.8,4.1 0.4,2 1.3,3.1 1.1,0.9 0.9,0.3 1.5,1.7 2.2,2 0.8,2 1.5,1.3 1.8,0.7 -1.6,2 1.9,0.9 2,-1 2,0.5 2,2.8 1.2,0.8 -1.2,1.8 -1.3,-1.8 -0.7,-0.3 -1.8,-1.7 -0.2,-1.6 -0.3,1.6 -1.7,2.1 2,0.1 1,1.8 1,0.8 2,0 0.5,1.2 5,2 -3,2.1 1.6,1 3.5,3 0.3,2 2.2,-0.5 0.3,0.5 -0.3,2 2.6,2 0.7,2zM190,179.6l1.4,-0.7 0.6,-2 -2,-0.6 -0.7,0.6 0.3,2zM188,171.4l0.2,-0.5 -0.2,-0.3 -0.3,0.3zM173.8,169.1l0.3,-0.2 -0.3,-0.6 -0.2,0.6zM123.3,66.4l0.9,-1.9 -0.9,-4.9 -0.3,0.9 -0.4,4zM121.3,53l0.5,-2.6 0.1,-2 -0.6,-3 -0.5,3z"/>
<path fill="#440154" fill-rule="evenodd" d="M212.2,217.2l0.2,-0.2 -0.2,-0.4 -0.2,0.4zM210.2,214.1l0.8,-1.1 -0.8,-0.7 -0.8,0.7zM208.2,210.2l1.4,-1.2 -1.4,-1.9 -0.7,1.9zM208.2,206.7l0.2,-1.7 -0.2,-0.7 -1.3,-1.3 -0.7,-1.8 -2.1,1.7 -0.5,0.1 0.5,0 2.1,3.2zM202.1,202.6l0.5,-1.6 -0.5,-0.4 -0.2,0.4zM204.1,199.2l0.2,-0.2 -0.2,-0.6 -0.1,0.6zM197.2,192.9l0.9,0.8 2,-0.2 0.7,-0.6 -0.7,-0.4 -2,-0.4zM188,185.1l0,-0.3 -0.2,0.1zM192,185.9l0.7,-1 -0.7,-1.9 -0.5,1.9zM186,179.1l0.2,-0.2 -0.2,-2.1 -0.2,0.1 -0.1,2zM183.9,175l1.1,-2.1 -1.1,-2.3 -2,-1 -2,-1.2 -2,0.1 -0.2,0.4 2.2,1.1 0.4,0.9 1.6,0.9zM175.9,167.3l0.6,-0.4 -0.6,-0.5 -0.7,0.5zM175.9,164l1.1,-1.2 -1.1,-1.1 -1.8,-0.9 -0.3,-1.4 -0.5,1.4 0.4,2zM177.9,161.4l0.5,-0.6 -0.5,-0.5 -0.6,0.5zM171.8,157.2l0.7,-0.4 -0.7,-1.4 -0.2,1.4zM169.8,154.5l1.3,-1.7 -0.9,-2 -0.4,-1.3 -2,-1.2 -2,-0.4 -0.3,-1.1 -1.8,-1.7 -1.5,1.7 1.5,1.6 1.4,0.4 -1.4,0.5 -0.8,1.5 0.8,0.7 2.1,-0.7 0.6,2 -1.2,2 0.6,0.3 2,-1.1zM165.8,150.8l2,-0.8 0.5,0.8 -0.5,0.3zM159.7,146.5l1.9,-1.7 0.4,-4 -0.3,-0.4 -2,-0.8 -2.1,1.2 -1.1,-2 1.2,-0.6 1.4,-1.4 -1.4,-1 -1.1,-1.1 -0.9,-2 -2.1,-0.9 -0.5,-1.1 0.1,-2 -1.6,-1 -0.6,-1 -0.3,-2 -1.1,-0.9 -0.9,-1.1 -2,-4 -1.1,-1.1 -0.6,-0.9 -0.5,-2 -1,-1.1 -1.4,-0.9 -0.5,-2 -1.3,-2 -0.8,-2.2 -1.4,-1.9 -0.2,-2 -2.4,-3.7 -0.4,-0.3 -1.2,-2 0.1,-2 -0.6,-1.3 -1,-0.7 -0.1,-2 -0.9,-1.7 -1.2,1.7 1,2 0.2,1 1.7,3 -0.3,2 2.7,4.6 1.1,1.4 0.9,3.4 1,2.7 1,1.6 1.1,0.4 0.1,2 0.5,2 0.3,0.6 1.3,1.4 0.7,1.5 3,0.5 -0.9,2 0,2.1 1.2,1.9 2.4,2 0.6,2 1.3,2 0.3,2 3.8,4.1 0.1,2 0.4,1.1 2,1.7 0.5,1.2zM158.8,142.8l0.9,-0.5 1.4,0.5 -1.4,0.3zM129.4,88.2l1,-1.6 -1,-3.2 -0.5,1.2 -0.3,2zM127.4,83l1.1,-0.4 -0.2,-2 -0.9,-2.7 -0.8,2.7zM125.4,74.9l0.2,-0.4 0.5,-2 -0.7,-2.6 -0.4,0.6 -0.3,2zM123.3,65.7l0.6,-1.2 -0.6,-3.7 -0.3,1.7 -0.1,2zM121.3,51.7l0.4,-3.3 -0.4,-2.3 -0.3,2.3z"/></g>
<g><rect x="398.3" y="36.4" width="201.4" height="200.7" fill="#fde725"/>
<path fill="#ece51b" fill-rule="evenodd" d="M398.3,237.1l201.4,0 0,-64.2 -8.2,-4 -6.8,-4.1 -5.6,-4 -4.6,-4 -3.6,-4 -1.5,-2 -2.3,-4 -1.6,-4 -0.5,-2 -0.3,-4 0,-2.1 0.8,-3.9 1.4,-4.1 2.3,-4 1.4,-2 3.4,-4 4.2,-4 2.4,-2 5,-3.6 7.2,-4.5 6.9,-3.6 0,-62.6 -201.4,0z"/>
<path fill="#dae319" fill-rule="evenodd" d="M398.3,237.1l201.4,0 0,-56.6 -12.1,-4.7 -10.5,-4.9 -7.6,-4.4 -5.3,-3.7 -4.9,-4 -3.9,-4 -2,-2.6 -2.2,-3.4 -1.8,-4 -0.7,-2 -0.4,-2 -0.4,-4 0.1,-2.1 0.7,-4 0.7,-2.1 1.7,-3.9 2.3,-3.8 1.7,-2.2 2.3,-2.7 3.4,-3.3 4.7,-3.9 2.9,-2.2 5.1,-3.3 4.7,-2.7 9.4,-4.7 12.1,-5 0,-54.5 -201.4,0z"/>
<path fill="#c8e020" fill-rule="evenodd" d="M398.3,237.1l201.4,0 0,-50.6 -14.1,-4.5 -8.6,-3.1 -4.8,-2 -6.7,-3.1 -5.8,-2.9 -4.3,-2.6 -5.3,-3.5 -2.8,-2.1 -4.4,-3.9 -3.7,-4 -2.9,-4 -1.2,-2 -1.7,-4 -1,-4 -0.4,-4 0.4,-4.1 0.8,-3.6 0.9,-2.4 2,-4 2.7,-4 3.5,-4 3,-3 3.6,-3 4.5,-3.4 4.1,-2.7 6.9,-4 5.1,-2.6 7.5,-3.4 4.9,-2 10.9,-4 6.9,-2.3 0,-47.9 -201.4,0z"/>
<path fill="#b2dd2d" fill-rule="evenodd" d="M398.3,237.1l201.4,0 0,-45.6 -17.1,-4.6 -9.1,-2.9 -8.8,-3.1 -7.3,-3 -6.6,-3 -7.6,-4 -5.9,-3.8 -3.2,-2.3 -4.8,-4 -3.9,-4 -3.2,-4 -2.3,-4 -1.7,-4 -0.9,-4 -0.4,-4 0.4,-4.1 0.9,-4 1.6,-4 2.2,-4 2.9,-4 3.7,-4 4.4,-4 5.2,-4.1 6.1,-4 7.1,-4 6,-2.9 6.9,-3.1 9.2,-3.6 6.9,-2.4 9.2,-2.9 10.1,-2.9 0,-42.4 -201.4,0z"/>
<path fill="#a0da39" fill-rule="evenodd" d="M398.3,237.1l201.4,0 0,-41.3 -12.9,-2.9 -7.9,-2 -9.4,-2.6 -10.7,-3.4 -7.4,-2.7 -8.2,-3.3 -8.5,-4 -7.1,-4 -6.1,-4 -5,-4.1 -4.1,-4 -3.4,-4 -2.6,-4 -1.8,-4 -1.3,-4 -0.4,-2 -0.3,-4 0.4,-4.6 0.8,-3.5 0.7,-2 1.8,-4 2.5,-4 4.3,-5.4 4.7,-4.6 5,-4.1 5.8,-4 6.8,-4 7.9,-4 8.1,-3.6 6.1,-2.4 10,-3.6 7.8,-2.4 14.4,-4.1 10,-2.4 0,-37.7 -201.4,0z"/>
<path fill="#8ed645" fill-rule="evenodd" d="M398.3,237.1l201.4,0 0,-37.5 -13.4,-2.6 -10.8,-2.5 -14.1,-3.6 -10,-3 -9.1,-3 -10.2,-4 -8.8,-4 -6.2,-3.3 -7.4,-4.7 -5.2,-4.1 -4.4,-4 -3.5,-4 -2.8,-4 -1.2,-2 -1.8,-4 -1.1,-4 -0.4,-2 -0.3,-4 0.3,-4.1 0.9,-4 0.6,-2 2.2,-4.8 3.3,-5.2 4.7,-5.6 4.8,-4.5 5.1,-4 6.2,-4.2 6.7,-3.8 8,-4 9.4,-4 10.8,-4 9.4,-3.1 10.4,-3 16.2,-4 11.7,-2.5 0,-33.6 -201.4,0z"/>
<path fill="#7ad151" fill-rule="evenodd" d="M398.3,237.1l201.4,0 0,-34.1 -16.1,-2.9 -15.2,-3.1 -11,-2.7 -12.6,-3.4 -9.5,-3 -8.6,-3 -9.8,-4 -8.2,-4 -7.1,-4 -5.9,-4 -5,-4.1 -2.1,-2 -3.7,-4 -3,-4 -1.3,-2 -2,-4 -0.8,-2 -1.1,-4 -0.3,-2 -0.3,-4 0.1,-2.1 0.5,-4 0.5,-2 1.4,-4 2.3,-4.7 3.6,-5.3 4.4,-5.1 5.5,-5 4.6,-3.5 3.6,-2.5 6.6,-4 7.6,-4 8.9,-4 10.3,-4 12.1,-4.1 11.3,-3.2 10.8,-2.8 15.4,-3.4 14.1,-2.7 0,-30 -201.4,0z"/>
<path fill="#69cd5b" fill-rule="evenodd" d="M398.3,237.1l201.4,0 0,-31.2 -18.4,-2.9 -10.9,-2 -13,-2.7 -14.1,-3.4 -14.2,-4 -12,-4 -10.1,-4 -8.5,-4 -7.6,-4.2 -4,-2.6 -4.5,-3.2 -4.7,-4.1 -2.9,-2.9 -2.7,-3.1 -2.8,-4 -1.2,-2 -1.9,-4 -1.3,-4 -0.8,-4 -0.3,-4 0.1,-2.1 0.5,-4 0.5,-2 1.3,-4 0.8,-2 2.1,-4 1.7,-2.6 2.6,-3.4 5.5,-5.9 4.7,-4.2 7.3,-5.3 7.9,-4.7 7.8,-4 9.1,-4 10.6,-4 12.4,-4.1 14.7,-4 16.1,-3.7 11.4,-2.3 18.8,-3.3 0,-26.8 -201.4,0z"/>
<path fill="#5ac864" fill-rule="evenodd" d="M398.3,237.1l201.4,0 0,-28.5 -20.1,-3 -15.8,-2.6 -14.4,-2.9 -14,-3.1 -14.8,-4.1 -12.4,-4 -10.5,-4 -8.8,-4 -8,-4.4 -5.8,-3.6 -2.7,-2 -5.6,-4.7 -5.2,-5.4 -2.9,-3.8 -2.5,-4.2 -1.8,-4 -0.7,-2 -1,-4 -0.3,-2 -0.2,-4 0.2,-4.1 0.8,-4 2,-6 3.2,-6 4.5,-6 5.8,-6.1 6.1,-5 7.3,-5 8.8,-5 10.6,-5 10.1,-4 11.8,-4.1 13.9,-4 14.1,-3.4 12.2,-2.6 20,-3.6 16.1,-2.5 0,-24 -201.4,0z"/>
<path fill="#4ac16d" fill-rule="evenodd" d="M398.3,237.1l201.4,0 0,-26.1 -20.1,-2.7 -21.5,-3.3 -14.8,-2.8 -15.1,-3.2 -15.5,-4 -12.9,-4.1 -10.8,-4 -9.1,-4 -7.7,-4 -5.4,-3.3 -4,-2.7 -5,-4 -3.1,-2.9 -3,-3.2 -1.7,-2 -2.8,-4 -1.2,-2 -2,-4 -1.4,-3.8 -0.6,-2.2 -0.7,-4 -0.2,-4 0.5,-6.1 1.6,-6 2.7,-6 2.4,-4 4.4,-5.7 4.1,-4.4 3.9,-3.5 3.2,-2.5 6.9,-4.8 9,-5.2 7.1,-3.5 5.7,-2.5 8.4,-3.3 7.9,-2.8 13.2,-4 15.9,-4 19.2,-4 23.8,-4 18.7,-2.6 0,-21.5 -201.4,0z"/>
<path fill="#3dbc74" fill-rule="evenodd" d="M398.3,237.1l201.4,0 0,-23.9 -20.1,-2.4 -26.2,-3.8 -22.2,-4 -18,-4 -14.7,-4 -6.4,-2.1 -9.2,-3.2 -11.4,-4.8 -4.7,-2.3 -6.7,-3.7 -6.2,-4 -3.2,-2.4 -4.4,-3.6 -4,-4.1 -1.7,-2 -3,-4 -2.5,-4 -2.6,-6 -1.5,-6 -0.5,-6 0.5,-6.1 1.6,-6 2.5,-6 3.7,-6 4.8,-6.1 6.2,-6 6.9,-5.3 7.2,-4.7 4.9,-2.8 6.4,-3.2 9.7,-4.3 10.1,-3.7 6.1,-2.1 14,-4 16.4,-4 20.3,-4 25.4,-4 22.5,-2.9 0,-19.2 -201.4,0z"/>
<path fill="#32b67a" fill-rule="evenodd" d="M398.3,237.1l201.4,0 0,-22 -22.2,-2.4 -27.8,-3.7 -23.7,-4 -18.9,-4 -15.5,-4 -6.6,-2 -8.2,-2.8 -8,-3.1 -5.2,-2.2 -4.9,-2.3 -6,-3.2 -7.3,-4.5 -6.8,-5.2 -5.2,-4.8 -2.9,-3.4 -2,-2.7 -3.7,-6 -2.5,-6 -1.4,-6 -0.4,-6 0.2,-4.1 0.7,-4 1.7,-6 2.8,-6 3.8,-6 5,-6.1 6.4,-6 3.5,-2.8 4.5,-3.2 7.6,-4.7 10.5,-5.3 7.6,-3.3 7.1,-2.8 7,-2.4 10.1,-3.1 16.1,-4.1 10.7,-2.4 10.2,-2 15.4,-2.6 23.4,-3.4 24.9,-2.9 0,-17.2 -201.4,0z"/>
<path fill="#28ae80" fill-rule="evenodd" d="M398.3,237.1l201.4,0 0,-20.2 -26.2,-2.6 -26.3,-3.3 -13.5,-2 -12,-2 -14.6,-2.9 -12.1,-2.7 -8.1,-2 -14.8,-4.4 -11.4,-4.2 -6,-2.5 -7,-3.4 -7.2,-4 -3.9,-2.6 -4.8,-3.4 -3.3,-2.8 -3.5,-3.2 -2.5,-2.8 -2.6,-3.3 -3.9,-6 -2.7,-6 -1.7,-6 -0.5,-4 -0.2,-4 0.2,-4.1 0.6,-4 1.7,-6 1.7,-4 2.1,-4 4,-6 5.2,-6.1 6.5,-6 3.7,-2.8 4.5,-3.2 5.5,-3.4 4.8,-2.6 7.3,-3.6 5.6,-2.5 12.5,-4.6 10.6,-3.4 7.2,-2 16.7,-4 20.6,-4 19.5,-3.1 22.5,-2.9 25.8,-2.8 0,-15.3 -201.4,0z"/>
<path fill="#22a884" fill-rule="evenodd" d="M398.3,237.1l201.4,0 0,-18.5 -30.2,-2.9 -23.5,-2.7 -14.7,-2 -12.9,-2 -17.4,-3.2 -13.2,-2.8 -8.1,-2 -14,-4 -11.5,-4.1 -7.6,-3.1 -6.2,-2.9 -7.9,-4.3 -4,-2.5 -4.5,-3.2 -3.5,-2.9 -3.4,-3.1 -2.7,-2.8 -2.7,-3.3 -4.1,-6 -2,-4 -1.6,-4 -1.6,-6 -0.5,-4 -0.2,-4 0.3,-4.1 0.6,-4 0.9,-4 1.4,-4 1.8,-4 2.2,-4 4.2,-6.1 5.3,-6 6.8,-6 5.3,-4 3.1,-2 5,-3 5.5,-3 6.6,-3.1 6.8,-3 5.2,-2 10.1,-3.4 8.7,-2.6 7.6,-2 17.6,-4 22.2,-4 16.4,-2.5 29.5,-3.5 24.9,-2.5 0,-13.6 -201.4,0z"/>
<path fill="#1fa187" fill-rule="evenodd" d="M398.3,158.4l0,78.7 201.4,0 0,-17.1 -34.2,-2.9 -19.3,-2.1 -21,-2.7 -21.5,-3.3 -20.5,-4 -14.4,-3.5 -8.9,-2.5 -6.3,-2 -10.9,-4.1 -9.1,-4 -7.7,-4 -6.4,-4 -5.4,-4 -4.6,-4 -3.9,-4 -4.7,-6.1zM398.3,115.5l1.5,-2.8 2.6,-4 4,-5.2 4.5,-4.9 6.9,-6 4.7,-3.4 4,-2.6 6.9,-4 8.1,-4.1 9.6,-4 11.4,-4 14.3,-4.1 16.3,-3.9 21.2,-4 23,-3.5 21,-2.5 19.5,-2.1 21.9,-1.9 0,-12.1 -201.4,0z"/>
<path fill="#1f9a8a" fill-rule="evenodd" d="M398.3,171l0,66.1 201.4,0 0,-15.7 -30.5,-2.4 -21,-2 -17.9,-2 -15.5,-2 -13.4,-2 -12.5,-2.1 -14.1,-2.9 -12.9,-3 -9.2,-2.6 -10.7,-3.4 -10.4,-4.1 -8.6,-4 -7.3,-4 -6.1,-4 -5.3,-4.1zM398.3,102.4l5.5,-5.8 4.5,-4 5.3,-4 6.1,-4 7.2,-4 8.4,-4.1 7.3,-3 8.3,-3 13.2,-4 16.1,-4 16.8,-3.4 15.6,-2.6 14.6,-2.1 26.2,-3.1 29.9,-2.9 16.4,-1.2 0,-10.8 -201.4,0z"/>
<path fill="#20938c" fill-rule="evenodd" d="M398.3,179.5l0,57.6 201.4,0 0,-14.4 -23.5,-1.7 -23.9,-2 -31.1,-3.2 -21,-2.8 -11.3,-1.7 -12.8,-2.3 -9.8,-2 -11.6,-2.7 -12,-3.3 -8.1,-2.7 -9,-3.3 -9,-4.1 -6.2,-3.3 -7.5,-4.7zM398.3,93.4l5.9,-4.8 4.2,-2.9 5,-3.1 7.4,-4.1 7.7,-3.5 5.9,-2.5 10.2,-3.6 7.8,-2.4 12.4,-3.3 12.1,-2.7 20.1,-3.7 15.3,-2.3 15.5,-2 18,-2.1 21.1,-2 32.8,-2.5 0,-9.5 -201.4,0z"/>
<path fill="#228d8d" fill-rule="evenodd" d="M398.3,186.2l0,50.9 201.4,0 0,-13.3 -40.6,-2.8 -23,-2 -14.9,-1.5 -28.2,-3.5 -12.1,-1.8 -12.1,-2.1 -14.1,-2.9 -9.3,-2.2 -8.8,-2.4 -10.1,-3.2 -6.6,-2.4 -9.3,-4.1 -7.8,-4zM398.3,86.3l5.6,-3.7 7.1,-4.1 7.4,-3.6 5.7,-2.4 8.4,-3.1 8.7,-2.9 14.8,-4 16.8,-3.7 13,-2.3 12.9,-2 14.9,-2 17.4,-2.1 20.4,-2 24,-2 24.3,-1.7 0,-8.3 -201.4,0z"/>
<path fill="#24868e" fill-rule="evenodd" d="M398.3,191.8l0,45.3 201.4,0 0,-12.2 -40.3,-2.6 -16.8,-1.3 -22.3,-2 -23.3,-2.5 -11.2,-1.5 -13.5,-2 -11.7,-2 -10.2,-2 -9.8,-2.2 -12.1,-3.2 -8.3,-2.6 -7.8,-2.8 -7.6,-3.2zM398.3,80.4l6,-3.3 5.3,-2.6 6.8,-2.9 8.1,-3.1 12.7,-4 15.8,-4 17.8,-3.6 14.9,-2.4 14.3,-2 16.8,-2.1 19.8,-2 23.3,-2 39.8,-2.8 0,-7.2 -201.4,0z"/>
<path fill="#277f8e" fill-rule="evenodd" d="M398.3,196.6l0,40.5 201.4,0 0,-11.2 -47.2,-2.8 -26,-2.1 -27.5,-2.6 -12,-1.4 -15.2,-2 -13,-2 -11.1,-2 -9.8,-2 -8.5,-2 -7.5,-2 -9.5,-2.9 -8.5,-3.1zM398.3,75.5l6.2,-3 4.7,-2 5.2,-2 8.1,-2.7 14.1,-4 6,-1.5 12.1,-2.6 18.5,-3.2 13.9,-2 16.2,-2.1 11.8,-1.2 30,-2.8 26.6,-2 28,-1.8 0,-6.2 -201.4,0z"/>
<path fill="#2a788e" fill-rule="evenodd" d="M398.3,200.9l0,36.2 201.4,0 0,-10.3 -32.7,-1.7 -30.9,-2 -31.1,-2.6 -15,-1.5 -17.4,-2 -14.6,-2 -9.4,-1.5 -18.1,-3.4 -10,-2.4 -8.1,-2.1 -8.3,-2.6zM398.3,71.1l6.4,-2.6 5.5,-2 13,-4 7.7,-2 8.8,-2 10,-2 9,-1.6 20.2,-3 11.4,-1.5 18.6,-2 22.1,-2 26.1,-2 42.6,-2.8 0,-5.2 -201.4,0z"/>
<path fill="#2c718e" fill-rule="evenodd" d="M398.3,204.8l0,32.3 201.4,0 0,-9.5 -49.4,-2.5 -30.3,-2 -24.8,-2.1 -20.2,-2 -22.3,-2.7 -20.4,-3.3 -10.2,-2 -8.8,-2 -7.7,-2zM398.3,67.3l8,-2.8 6.7,-2 13.5,-3.5 12,-2.5 11.1,-2 9.1,-1.5 19.2,-2.6 18.1,-2 21.6,-2 25.5,-2 56.6,-3.8 0,-4.2 -201.4,0z"/>
<path fill="#306a8e" fill-rule="evenodd" d="M398.3,208.4l0,28.7 201.4,0 0,-8.7 -29.2,-1.3 -36.8,-2 -29.9,-2 -31,-2.7 -24.2,-2.7 -18.5,-2.7 -17.7,-3.3zM398.3,63.9l11.8,-3.4 12.4,-3 15.8,-3 14.4,-2.3 13.1,-1.8 17.7,-2 21.2,-2 25.1,-2 69.9,-4.8 0,-3.2 -201.4,0z"/>
<path fill="#33638d" fill-rule="evenodd" d="M398.3,211.8l0,25.3 201.4,0 0,-8 -45.8,-2 -36.9,-2 -29.8,-2 -18.4,-1.6 -24.2,-2.4 -16.4,-2.1 -15.8,-2.5zM398.3,60.9l12.1,-3 16.1,-3.3 13,-2.1 14.6,-2.1 17.3,-2 20.9,-2 24.8,-2 58.7,-4 23.9,-1.9 0,-2.1 -201.4,0z"/>
<path fill="#365c8d" fill-rule="evenodd" d="M398.3,215l0,22.1 201.4,0 0,-7.3 -62.7,-2.7 -37.4,-2 -30.1,-2 -23.9,-2.1 -17.1,-1.7 -16.1,-2.1zM398.3,58.2l16.1,-3.4 13.8,-2.3 14.3,-2.1 17.1,-2 20.6,-2 24.7,-2 58.6,-4 24.8,-2 10,-2 -200,0z"/>
<path fill="#3a538b" fill-rule="evenodd" d="M398.3,218.2l0,18.9 201.4,0 0,-6.7 -80.3,-3.3 -38.9,-2 -27.8,-1.8 -20.2,-1.6 -18.1,-1.7zM398.3,55.8l18.6,-3.3 14,-2.1 17,-2 20.5,-2 24.7,-2 58.3,-3.9 25.5,-2.1 10.1,-2 -188.7,0z"/>
<path fill="#3e4c8a" fill-rule="evenodd" d="M398.3,221.6l0,15.5 201.4,0 0,-6.1 -100,-3.9 -26.9,-1.3 -40.3,-2.1zM398.3,53.6l20.8,-3.2 17,-2 20.6,-2 24.8,-2 53.8,-3.6 31,-2.4 10.2,-2 -178.2,0z"/>
<path fill="#414487" fill-rule="evenodd" d="M398.3,225.5l0,11.6 201.4,0 0,-5.6 -153.1,-5.3 -30.2,-0.8zM398.3,51.6l8.3,-1.2 17.2,-2 20.9,-2 25.3,-2 55.2,-3.6 31.2,-2.4 10.3,-2 -168.4,0z"/>
<path fill="#443a83" fill-rule="evenodd" d="M398.3,237.1l201.4,0 0,-5.1 -56.4,-2 -58.4,-1.6 -32.2,-0.5 -22.2,0.2 -10,0.4 -8.1,0.6 -6,1 -4.4,1 -3.7,2zM398.3,49.8l12,-1.4 21.9,-2 26.2,-2 52.7,-3.3 36.1,-2.7 10.5,-2 -159.4,0z"/>
<path fill="#46327e" fill-rule="evenodd" d="M419.5,237.1l180.2,0 0,-4.6 -26.2,-1 -58.4,-1.6 -36.2,-0.5 -24.2,0.1 -16.1,0.7 -6.1,0.6 -4,0.6 -6.6,1.7 -2.4,2zM398.3,48.1l19.7,-1.7 28.2,-2 52.8,-3.2 28.2,-1.9 11.4,-0.9 10.7,-2 -151,0z"/>
<path fill="#482979" fill-rule="evenodd" d="M437.2,237.1l162.5,0 0,-4.1 -32.2,-1.2 -46.3,-1.1 -28.2,-0.4 -22.2,0.3 -16.1,0.7 -6.1,0.7 -6.9,1.1 -4.1,2zM398.3,46.5l88.6,-5.1 28.2,-1.8 15.4,-1.2 11.1,-2 -143.3,0z"/>
<path fill="#481f70" fill-rule="evenodd" d="M451.9,237.1l147.8,0 0,-3.7 -30.2,-1.2 -28.2,-0.7 -34.2,-0.4 -22.2,0.2 -14.1,0.7 -11.8,1.1 -6.3,2zM398.3,45l40.3,-1.7 38.2,-1.9 28.2,-1.6 18,-1.4 11.5,-2 -136.2,0z"/>
<path fill="#481668" fill-rule="evenodd" d="M464.3,237.1l135.4,0 0,-3.2 -30.2,-1.3 -24.2,-0.6 -26.2,-0.3 -22.1,0.2 -12.1,0.5 -10.1,0.7 -4,0.7 -5.3,1.3zM398.3,43.6l14.1,-0.2 18.1,-0.5 34.3,-1.4 28.2,-1.5 23,-1.6 11.9,-2 -129.6,0z"/>
<path fill="#460b5e" fill-rule="evenodd" d="M474.9,237.1l124.8,0 0,-2.8 -18.1,-0.9 -32.2,-0.9 -22.2,-0.2 -20.1,0.1 -17.1,0.7 -7.1,0.8 -6.3,1.2zM398.3,42.1l12.1,0.3 14.1,-0.1 20.1,-0.5 18.1,-0.7 28.2,-1.4 16.2,-1.1 6,-0.7 8.8,-1.5 -123.6,0z"/>
<path fill="#440154" fill-rule="evenodd" d="M484.1,237.1l115.6,0 0,-2.3 -16.1,-1 -18.1,-0.6 -28.2,-0.5 -22.2,0.1 -14.1,0.6 -10.1,1 -4.6,0.7zM398.3,40.6l10.1,0.7 12.1,0.2 16.1,-0.1 16.1,-0.4 28.2,-1.1 16.1,-1 8,-0.7 11.4,-1.8 -118.1,0z"/></g>
<path fill="none" stroke="#22105f" stroke-width="1.15" stroke-linejoin="round" d="M217.6,235.1l-1.3,0.4 -2.4,-0.4 -12.2,-12 -3.6,-3.9 -2,-1.8 -4.1,-3.9 -4.2,-4.5 -1.8,-1.6 -2.1,-0.3 -2,-1.9 -6.3,-6.2 -0.3,-2 -1.5,-1.5 -2,-0.4 -2.3,-2.2 -1.7,-1.8 -2.3,-2.2 -0.2,-2 -1.6,-1.6 -2,-0.2 -10.3,-10.2 -0.2,-2 -7.9,-8.1 -0.2,-2 -5.7,-6 -0.3,-2 -2,-2 -0.1,-2 -3.8,-4 -0.2,-2 -1.9,-2 -0.1,-2 -3.8,-4 -0.3,-4.1 -1.8,-2 -0.2,-4 -1.9,-2 -0.2,-4 -1.8,-2 -0.1,-2 -1.8,-2 -0.2,-8.1 -1.8,-2 -0.1,-12 -1.9,-2 0,-16.1 1.8,-2 0.2,-14 1.7,-2 0.3,-8.1 1.5,-2 0.3,-4 1.4,-2 0.5,-2 0.5,-0.2 0.4,0.2 0.8,2 0.4,2 0.4,1.3 0.6,0.7 0.5,2 1.3,2 0.5,2 1.4,2.1 0.5,2 1.6,2 0.4,2 1.6,2 0.4,2 1.7,2 0.4,2 3.6,4 0.3,2 3.7,4 0.3,2 5.7,6.1 0.3,2 7.8,8 0.3,2 9.6,9.7 2,0.2 0.1,0.1 0.2,2.1 23.9,23.7 2,0.1 2.2,2.2 0.4,4.1 3.5,3.5 2,0.3 6.3,6.2 0.2,2 6,6 0.2,2 1.5,1.5 4,0.5 0.4,2 -0.1,2 1.7,1.6 5,0.5 -0.9,0.1 -1.6,1.9 1.6,1.5 2,0.2 0.2,0.3 0.1,2 1.7,1.7 2,0.1 0.2,0.2 0.1,2 1.7,1.7 2.1,0.3 0.4,6 1.7,2 0.2,2 -1.7,2 0,2 3.7,4.1 -0.2,2 -2.1,0.5 -1.5,1.5 1.9,2 -0.1,2 -1.9,2 -0.3,4 -0.1,0.2 -2.1,0.4 -1.2,1.4 -0.3,2 -0.5,1.9 -2,0.8 -1.3,1.3 -0.2,2 -3.4,4.1 -0.8,2 -2.4,2.7 -2,2 -1,1.3 -1,0.9z"/>
<path fill="none" stroke="#22105f" stroke-width="1.15" stroke-linejoin="round" d="M240.5,191.1l-0.2,-0.2 0.2,-0.1 0.1,0.1"/>
<path fill="none" stroke="#22105f" stroke-width="1.15" stroke-linejoin="round" d="M226.4,174.2l1.6,-1.3 -1.6,-1.6 -1.4,1.6"/>
<rect x="58.7" y="36.4" width="202" height="200.7" fill="none" stroke="#000" stroke-width="0.8"/>
<path d="M58.70,237.1 v2.7" stroke="#000" stroke-width="0.8"/>
<text x="58.70" y="254.5" text-anchor="middle">40</text>
<path d="M139.50,237.1 v2.7" stroke="#000" stroke-width="0.8"/>
<text x="139.50" y="254.5" text-anchor="middle">60</text>
<path d="M220.30,237.1 v2.7" stroke="#000" stroke-width="0.8"/>
<text x="220.30" y="254.5" text-anchor="middle">80</text>
<path d="M58.7,237.10 h-2.7" stroke="#000" stroke-width="0.8"/>
<text x="53.5" y="243.20" text-anchor="end">0.0</text>
<path d="M58.7,196.96 h-2.7" stroke="#000" stroke-width="0.8"/>
<text x="53.5" y="203.06" text-anchor="end">0.1</text>
<path d="M58.7,156.82 h-2.7" stroke="#000" stroke-width="0.8"/>
<text x="53.5" y="162.92" text-anchor="end">0.2</text>
<path d="M58.7,116.68 h-2.7" stroke="#000" stroke-width="0.8"/>
<text x="53.5" y="122.78" text-anchor="end">0.3</text>
<path d="M58.7,76.54 h-2.7" stroke="#000" stroke-width="0.8"/>
<text x="53.5" y="82.64" text-anchor="end">0.4</text>
<path d="M58.7,36.40 h-2.7" stroke="#000" stroke-width="0.8"/>
<text x="53.5" y="42.50" text-anchor="end">0.5</text>
<rect x="398.3" y="36.4" width="201.4" height="200.7" fill="none" stroke="#000" stroke-width="0.8"/>
<path d="M398.30,237.1 v2.7" stroke="#000" stroke-width="0.8"/>
<text x="398.30" y="254.5" text-anchor="middle">40</text>
<path d="M478.86,237.1 v2.7" stroke="#000" stroke-width="0.8"/>
<text x="478.86" y="254.5" text-anchor="middle">60</text>
<path d="M559.42,237.1 v2.7" stroke="#000" stroke-width="0.8"/>
<text x="559.42" y="254.5" text-anchor="middle">80</text>
<path d="M398.3,237.10 h-2.7" stroke="#000" stroke-width="0.8"/>
<text x="393.1" y="243.20" text-anchor="end">0.0</text>
<path d="M398.3,196.96 h-2.7" stroke="#000" stroke-width="0.8"/>
<text x="393.1" y="203.06" text-anchor="end">0.1</text>
<path d="M398.3,156.82 h-2.7" stroke="#000" stroke-width="0.8"/>
<text x="393.1" y="162.92" text-anchor="end">0.2</text>
<path d="M398.3,116.68 h-2.7" stroke="#000" stroke-width="0.8"/>
<text x="393.1" y="122.78" text-anchor="end">0.3</text>
<path d="M398.3,76.54 h-2.7" stroke="#000" stroke-width="0.8"/>
<text x="393.1" y="82.64" text-anchor="end">0.4</text>
<path d="M398.3,36.40 h-2.7" stroke="#000" stroke-width="0.8"/>
<text x="393.1" y="42.50" text-anchor="end">0.5</text>
<rect x="272.4" y="234.88" width="12" height="4.82" fill="#46085c"/>
<rect x="272.4" y="230.21" width="12" height="4.82" fill="#471164"/>
<rect x="272.4" y="225.55" width="12" height="4.82" fill="#481a6c"/>
<rect x="272.4" y="220.88" width="12" height="4.82" fill="#482071"/>
<rect x="272.4" y="216.21" width="12" height="4.82" fill="#482878"/>
<rect x="272.4" y="211.54" width="12" height="4.82" fill="#472f7d"/>
<rect x="272.4" y="206.87" width="12" height="4.82" fill="#453581"/>
<rect x="272.4" y="202.20" width="12" height="4.82" fill="#433d84"/>
<rect x="272.4" y="197.54" width="12" height="4.82" fill="#414487"/>
<rect x="272.4" y="192.87" width="12" height="4.82" fill="#3e4989"/>
<rect x="272.4" y="188.20" width="12" height="4.82" fill="#3c508b"/>
<rect x="272.4" y="183.53" width="12" height="4.82" fill="#39568c"/>
<rect x="272.4" y="178.86" width="12" height="4.82" fill="#365c8d"/>
<rect x="272.4" y="174.20" width="12" height="4.82" fill="#33628d"/>
<rect x="272.4" y="169.53" width="12" height="4.82" fill="#31688e"/>
<rect x="272.4" y="164.86" width="12" height="4.82" fill="#2e6e8e"/>
<rect x="272.4" y="160.19" width="12" height="4.82" fill="#2c728e"/>
<rect x="272.4" y="155.52" width="12" height="4.82" fill="#2a788e"/>
<rect x="272.4" y="150.85" width="12" height="4.82" fill="#277e8e"/>
<rect x="272.4" y="146.19" width="12" height="4.82" fill="#26828e"/>
<rect x="272.4" y="141.52" width="12" height="4.82" fill="#23888e"/>
<rect x="272.4" y="136.85" width="12" height="4.82" fill="#218e8d"/>
<rect x="272.4" y="132.18" width="12" height="4.82" fill="#20928c"/>
<rect x="272.4" y="127.51" width="12" height="4.82" fill="#1f988b"/>
<rect x="272.4" y="122.85" width="12" height="4.82" fill="#1f9e89"/>
<rect x="272.4" y="118.18" width="12" height="4.82" fill="#1fa287"/>
<rect x="272.4" y="113.51" width="12" height="4.82" fill="#22a884"/>
<rect x="272.4" y="108.84" width="12" height="4.82" fill="#27ad81"/>
<rect x="272.4" y="104.17" width="12" height="4.82" fill="#2db27d"/>
<rect x="272.4" y="99.50" width="12" height="4.82" fill="#35b779"/>
<rect x="272.4" y="94.84" width="12" height="4.82" fill="#3fbc73"/>
<rect x="272.4" y="90.17" width="12" height="4.82" fill="#4ac16d"/>
<rect x="272.4" y="85.50" width="12" height="4.82" fill="#54c568"/>
<rect x="272.4" y="80.83" width="12" height="4.82" fill="#60ca60"/>
<rect x="272.4" y="76.16" width="12" height="4.82" fill="#6ece58"/>
<rect x="272.4" y="71.50" width="12" height="4.82" fill="#7ad151"/>
<rect x="272.4" y="66.83" width="12" height="4.82" fill="#89d548"/>
<rect x="272.4" y="62.16" width="12" height="4.82" fill="#98d83e"/>
<rect x="272.4" y="57.49" width="12" height="4.82" fill="#a5db36"/>
<rect x="272.4" y="52.82" width="12" height="4.82" fill="#b5de2b"/>
<rect x="272.4" y="48.15" width="12" height="4.82" fill="#c5e021"/>
<rect x="272.4" y="43.49" width="12" height="4.82" fill="#d2e21b"/>
<rect x="272.4" y="38.82" width="12" height="4.82" fill="#e2e418"/>
<rect x="272.4" y="34.15" width="12" height="4.82" fill="#f1e51d"/>
<path d="M272.4,239.2 V239.7 L278.4,250 L284.4,239.7 V239.2 Z" fill="#440154"/>
<path d="M272.4,34.8 V34.3 L278.4,24 L284.4,34.3 V34.8 Z" fill="#fde725"/>
<path d="M272.4,34.3 L278.4,24 L284.4,34.3 L284.4,239.7 L278.4,250 L272.4,239.7 Z" fill="none" stroke="#000" stroke-width="0.8" stroke-linejoin="miter"/>
<rect x="612.3" y="233.31" width="11.5" height="6.19" fill="#460b5e"/>
<rect x="612.3" y="227.27" width="11.5" height="6.19" fill="#481668"/>
<rect x="612.3" y="221.24" width="11.5" height="6.19" fill="#481f70"/>
<rect x="612.3" y="215.20" width="11.5" height="6.19" fill="#482979"/>
<rect x="612.3" y="209.16" width="11.5" height="6.19" fill="#46327e"/>
<rect x="612.3" y="203.12" width="11.5" height="6.19" fill="#443a83"/>
<rect x="612.3" y="197.08" width="11.5" height="6.19" fill="#414487"/>
<rect x="612.3" y="191.04" width="11.5" height="6.19" fill="#3e4c8a"/>
<rect x="612.3" y="185.01" width="11.5" height="6.19" fill="#3a538b"/>
<rect x="612.3" y="178.97" width="11.5" height="6.19" fill="#365c8d"/>
<rect x="612.3" y="172.93" width="11.5" height="6.19" fill="#33638d"/>
<rect x="612.3" y="166.89" width="11.5" height="6.19" fill="#306a8e"/>
<rect x="612.3" y="160.85" width="11.5" height="6.19" fill="#2c718e"/>
<rect x="612.3" y="154.81" width="11.5" height="6.19" fill="#2a788e"/>
<rect x="612.3" y="148.78" width="11.5" height="6.19" fill="#277f8e"/>
<rect x="612.3" y="142.74" width="11.5" height="6.19" fill="#24868e"/>
<rect x="612.3" y="136.70" width="11.5" height="6.19" fill="#228d8d"/>
<rect x="612.3" y="130.66" width="11.5" height="6.19" fill="#20938c"/>
<rect x="612.3" y="124.62" width="11.5" height="6.19" fill="#1f9a8a"/>
<rect x="612.3" y="118.59" width="11.5" height="6.19" fill="#1fa187"/>
<rect x="612.3" y="112.55" width="11.5" height="6.19" fill="#22a884"/>
<rect x="612.3" y="106.51" width="11.5" height="6.19" fill="#28ae80"/>
<rect x="612.3" y="100.47" width="11.5" height="6.19" fill="#32b67a"/>
<rect x="612.3" y="94.43" width="11.5" height="6.19" fill="#3dbc74"/>
<rect x="612.3" y="88.39" width="11.5" height="6.19" fill="#4ac16d"/>
<rect x="612.3" y="82.36" width="11.5" height="6.19" fill="#5ac864"/>
<rect x="612.3" y="76.32" width="11.5" height="6.19" fill="#69cd5b"/>
<rect x="612.3" y="70.28" width="11.5" height="6.19" fill="#7ad151"/>
<rect x="612.3" y="64.24" width="11.5" height="6.19" fill="#8ed645"/>
<rect x="612.3" y="58.20" width="11.5" height="6.19" fill="#a0da39"/>
<rect x="612.3" y="52.16" width="11.5" height="6.19" fill="#b2dd2d"/>
<rect x="612.3" y="46.13" width="11.5" height="6.19" fill="#c8e020"/>
<rect x="612.3" y="40.09" width="11.5" height="6.19" fill="#dae319"/>
<rect x="612.3" y="34.05" width="11.5" height="6.19" fill="#ece51b"/>
<path d="M612.3,239 V239.5 L618.05,249.8 L623.8,239.5 V239 Z" fill="#440154"/>
<path d="M612.3,34.7 V34.2 L618.05,23.9 L623.8,34.2 V34.7 Z" fill="#fde725"/>
<path d="M612.3,34.2 L618.05,23.9 L623.8,34.2 L623.8,239.5 L618.05,249.8 L612.3,239.5 Z" fill="none" stroke="#000" stroke-width="0.8" stroke-linejoin="miter"/>
<path d="M284.4,34.3 h2.6" stroke="#000" stroke-width="0.8"/>
<text x="289.5" y="40.40">0</text>
<path d="M284.4,76.4 h2.6" stroke="#000" stroke-width="0.8"/>
<text x="289.5" y="82.50">−1</text>
<path d="M284.4,123.1 h2.6" stroke="#000" stroke-width="0.8"/>
<text x="289.5" y="129.20">−2</text>
<path d="M284.4,169.7 h2.6" stroke="#000" stroke-width="0.8"/>
<text x="289.5" y="175.80">−3</text>
<path d="M284.4,216.4 h2.6" stroke="#000" stroke-width="0.8"/>
<text x="289.5" y="222.50">−4</text>
<path d="M623.8,41.2 h2.6" stroke="#000" stroke-width="0.8"/>
<text x="628.9" y="47.30">0.5</text>
<path d="M623.8,107.3 h2.6" stroke="#000" stroke-width="0.8"/>
<text x="628.9" y="113.40">0.0</text>
<path d="M623.8,173.4 h2.6" stroke="#000" stroke-width="0.8"/>
<text x="628.9" y="179.50">−0.5</text>
<path d="M623.8,239.5 h2.6" stroke="#000" stroke-width="0.8"/>
<text x="628.9" y="245.60">−1.0</text>
<text x="159.5" y="271.7" text-anchor="middle">Ω/2<tspan font-style="italic">π</tspan> [MHz]</text>
<text x="499" y="271.7" text-anchor="middle">Ω/2<tspan font-style="italic">π</tspan> [MHz]</text>
<text transform="translate(22.3,136.6) rotate(-90)" text-anchor="middle">Θ/<tspan font-style="italic">π</tspan></text>
<text transform="translate(361.9,136.6) rotate(-90)" text-anchor="middle">Θ/<tspan font-style="italic">π</tspan></text>
<text transform="translate(326.8,136.9) rotate(-90)" text-anchor="middle">log<tspan dy="3.2" font-size="10.85">10</tspan><tspan dy="-3.2" font-size="10.85">​</tspan>(1-<tspan font-style="italic">ℱ</tspan>)</text>
<text transform="translate(680.5,137) rotate(-90)" text-anchor="middle">log<tspan dy="3.2" font-size="10.85">10</tspan><tspan dy="-3.2" font-size="10.85">​</tspan>(Ω<tspan dy="3.2" font-size="10.85" font-style="italic">eff</tspan><tspan dy="-3.2" font-size="10.85">​</tspan>/2<tspan font-style="italic">π</tspan> [MHz])</text>
<text x="-1.2" y="17" font-size="21">(a)</text>
<text x="358.3" y="17" font-size="21">(b)</text>
</svg>
</body></html>
